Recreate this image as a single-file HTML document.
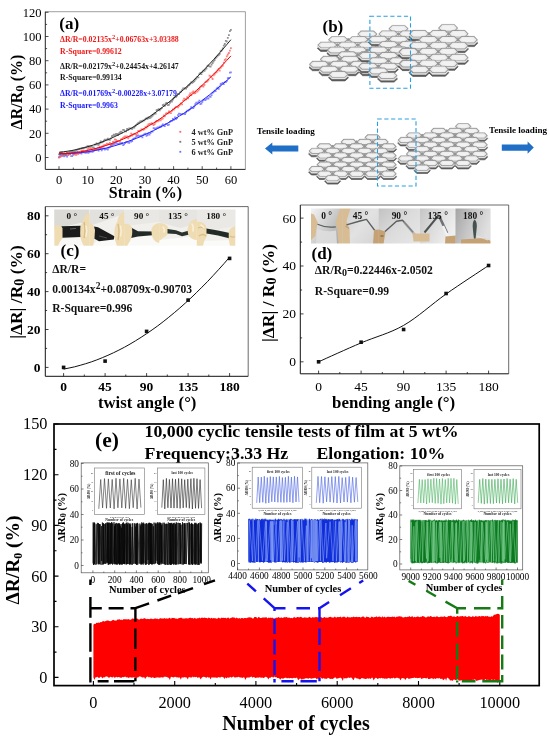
<!DOCTYPE html><html><head><meta charset="utf-8"><title>figure</title><style>html,body{margin:0;padding:0;background:#fff}svg{display:block}text{font-family:"Liberation Serif",serif}</style></head><body>
<svg width="550" height="743" viewBox="0 0 550 743">
<rect width="550" height="743" fill="#fff"/>
<defs>
<filter id="bl" x="-5%" y="-10%" width="110%" height="120%"><feGaussianBlur stdDeviation="0.55"/></filter>
<linearGradient id="gd1" x1="0" y1="0" x2="1" y2="0.8"><stop offset="0" stop-color="#f6f6f6"/><stop offset="0.4" stop-color="#d8d8d8"/><stop offset="1" stop-color="#a8a8a8"/></linearGradient>
<linearGradient id="gd2" x1="0" y1="0" x2="1" y2="1"><stop offset="0" stop-color="#cacaca"/><stop offset="0.5" stop-color="#e2e2e2"/><stop offset="1" stop-color="#d2d2d2"/></linearGradient>
<linearGradient id="gd3" x1="0" y1="0" x2="1" y2="1"><stop offset="0" stop-color="#c0c0c0"/><stop offset="0.5" stop-color="#dcdcdc"/><stop offset="1" stop-color="#e8e8e8"/></linearGradient>
<linearGradient id="gd4" x1="0" y1="0" x2="1" y2="0.6"><stop offset="0" stop-color="#c4c4c4"/><stop offset="0.55" stop-color="#dedede"/><stop offset="1" stop-color="#f0f0f0"/></linearGradient>
<linearGradient id="gd5" x1="0" y1="0" x2="1" y2="0.4"><stop offset="0" stop-color="#a2a2a2"/><stop offset="0.5" stop-color="#c6c6c6"/><stop offset="1" stop-color="#e0e0e0"/></linearGradient>
</defs>
<g id="pa">
<path d="M58.1 157.1h1.8M59.1 156.2h1.8M60.1 154.9h1.8M61.2 155.5h1.8M62.2 155.6h1.8M63.2 156.3h1.8M64.2 155.6h1.8M65.2 155.4h1.8M66.2 156.7h1.8M67.3 154.6h1.8M68.3 154.3h1.8M69.3 154.2h1.8M70.3 156.1h1.8M71.3 156.1h1.8M72.3 154.8h1.8M73.4 153.8h1.8M74.4 153h1.8M75.4 153h1.8M76.4 152h1.8M77.4 152.7h1.8M78.4 152.5h1.8M79.5 153h1.8M80.5 153.5h1.8M81.5 151.4h1.8M82.5 152.3h1.8M83.5 151.8h1.8M84.5 152.8h1.8M85.6 152.5h1.8M86.6 152.6h1.8M87.6 152.9h1.8M88.6 152.1h1.8M89.6 151.6h1.8M90.6 151.7h1.8M91.7 151.8h1.8M92.7 150.7h1.8M93.7 148.6h1.8M94.7 150.1h1.8M95.7 149.8h1.8M96.8 149.6h1.8M97.8 150.5h1.8M98.8 149.1h1.8M99.8 148.2h1.8M100.8 150.3h1.8M101.8 148.5h1.8M102.9 148.3h1.8M103.9 149.6h1.8M104.9 149h1.8M105.9 148.9h1.8M106.9 149.5h1.8M107.9 147.6h1.8M109 147.2h1.8M110 145.8h1.8M111 144.3h1.8M112 144.6h1.8M113 144h1.8M114 143.9h1.8M115.1 142h1.8M116.1 143.5h1.8M117.1 143.9h1.8M118.1 144.1h1.8M119.1 143.4h1.8M120.1 143.5h1.8M121.2 142.8h1.8M122.2 145.2h1.8M123.2 144.4h1.8M124.2 143.1h1.8M125.2 142.1h1.8M126.2 141.9h1.8M127.3 142.6h1.8M128.3 142.8h1.8M129.3 141.1h1.8M130.3 141.6h1.8M131.3 141h1.8M132.4 138.9h1.8M133.4 138.4h1.8M134.4 138.1h1.8M135.4 136.6h1.8M136.4 135.9h1.8M137.4 135.4h1.8M138.5 136.3h1.8M139.5 136h1.8M140.5 135.7h1.8M141.5 137.4h1.8M142.5 134.9h1.8M143.5 134.1h1.8M144.6 133.7h1.8M145.6 135.8h1.8M146.6 135h1.8M147.6 133.4h1.8M148.6 134.7h1.8M149.6 133.2h1.8M150.7 131.6h1.8M151.7 131.7h1.8M152.7 128.1h1.8M153.7 128.5h1.8M154.7 129.1h1.8M155.7 128.2h1.8M156.8 127.3h1.8M157.8 127.6h1.8M158.8 126.7h1.8M159.8 127h1.8M160.8 125.6h1.8M161.9 124.3h1.8M162.9 125.5h1.8M163.9 126.1h1.8M164.9 124.2h1.8M165.9 123.8h1.8M166.9 125.1h1.8M168 124.7h1.8M169 121.9h1.8M170 120.9h1.8M171 120.8h1.8M172 119h1.8M173 119.8h1.8M174.1 117.5h1.8M175.1 119.2h1.8M176.1 118h1.8M177.1 115.2h1.8M178.1 113.7h1.8M179.1 113.9h1.8M180.2 114.4h1.8M181.2 114.1h1.8M182.2 113.8h1.8M183.2 113.9h1.8M184.2 114.2h1.8M185.2 112.4h1.8M186.3 110.7h1.8M187.3 110.7h1.8M188.3 109.9h1.8M189.3 109.1h1.8M190.3 107.1h1.8M191.3 108.1h1.8M192.4 108.2h1.8M193.4 106.5h1.8M194.4 104.2h1.8M195.4 102.6h1.8M196.4 103.4h1.8M197.5 102.2h1.8M198.5 100.6h1.8M199.5 104h1.8M200.5 103.5h1.8M201.5 101.8h1.8M202.5 100.2h1.8M203.6 99.6h1.8M204.6 100.1h1.8M205.6 98.9h1.8M206.6 98.2h1.8M207.6 98.5h1.8M208.6 96.4h1.8M209.7 96.8h1.8M210.7 95.1h1.8M211.7 92.8h1.8M212.7 91.9h1.8M213.7 90.7h1.8M214.7 91.1h1.8M215.8 88.7h1.8M216.8 87.7h1.8M217.8 88.9h1.8M218.8 86.3h1.8M219.8 84h1.8M220.8 83.6h1.8M221.9 82.8h1.8M222.9 84.1h1.8M223.9 82.2h1.8M224.9 82.1h1.8M225.9 80.8h1.8M226.9 78.1h1.8M228 77.8h1.8M229 72.7h1.8M230 72.3h1.8" stroke="#5858ff" stroke-width="1.8" opacity="0.72" fill="none"/>
<path d="M58.1 157.7h1.8M59.1 157.1h1.8M60.1 156.3h1.8M61.2 155.9h1.8M62.2 155.1h1.8M63.2 153.7h1.8M64.2 154.2h1.8M65.2 155h1.8M66.2 152.4h1.8M67.3 155.1h1.8M68.3 153.6h1.8M69.3 154h1.8M70.3 153.1h1.8M71.3 152.6h1.8M72.3 153.5h1.8M73.4 153.4h1.8M74.4 154.8h1.8M75.4 154.8h1.8M76.4 153.3h1.8M77.4 154.1h1.8M78.4 153.2h1.8M79.5 152.9h1.8M80.5 151h1.8M81.5 151.4h1.8M82.5 150.4h1.8M83.5 151.8h1.8M84.5 151.1h1.8M85.6 151.6h1.8M86.6 149.3h1.8M87.6 148h1.8M88.6 149.9h1.8M89.6 148.5h1.8M90.6 148.9h1.8M91.7 149.6h1.8M92.7 151.2h1.8M93.7 148.9h1.8M94.7 149.2h1.8M95.7 148.8h1.8M96.8 147.9h1.8M97.8 148.1h1.8M98.8 147h1.8M99.8 148.3h1.8M100.8 146.6h1.8M101.8 146.2h1.8M102.9 145.3h1.8M103.9 145.2h1.8M104.9 145h1.8M105.9 143.7h1.8M106.9 144.2h1.8M107.9 143.8h1.8M109 142.8h1.8M110 144.3h1.8M111 145h1.8M112 141.9h1.8M113 141.6h1.8M114 139.3h1.8M115.1 139.9h1.8M116.1 141h1.8M117.1 141.2h1.8M118.1 141.2h1.8M119.1 141.5h1.8M120.1 139.3h1.8M121.2 139h1.8M122.2 137.8h1.8M123.2 137.1h1.8M124.2 136.3h1.8M125.2 137.4h1.8M126.2 136.4h1.8M127.3 138.3h1.8M128.3 136.7h1.8M129.3 136.2h1.8M130.3 133.7h1.8M131.3 135.5h1.8M132.4 134.3h1.8M133.4 134.1h1.8M134.4 134.2h1.8M135.4 134.9h1.8M136.4 133.4h1.8M137.4 130.9h1.8M138.5 131.3h1.8M139.5 130.6h1.8M140.5 129.5h1.8M141.5 129.3h1.8M142.5 129.8h1.8M143.5 129.2h1.8M144.6 127.2h1.8M145.6 127.6h1.8M146.6 125.7h1.8M147.6 124.3h1.8M148.6 124h1.8M149.6 123.8h1.8M150.7 123.1h1.8M151.7 124.2h1.8M152.7 125h1.8M153.7 124.2h1.8M154.7 122.4h1.8M155.7 120.9h1.8M156.8 121.4h1.8M157.8 120.6h1.8M158.8 119.8h1.8M159.8 120.4h1.8M160.8 119.1h1.8M161.9 118.3h1.8M162.9 115.4h1.8M163.9 116.4h1.8M164.9 113.7h1.8M165.9 113.2h1.8M166.9 113.3h1.8M168 111.5h1.8M169 112.5h1.8M170 113.1h1.8M171 110.8h1.8M172 109.3h1.8M173 109.6h1.8M174.1 107.8h1.8M175.1 106.8h1.8M176.1 106.8h1.8M177.1 107.4h1.8M178.1 105.9h1.8M179.1 104.6h1.8M180.2 103.4h1.8M181.2 104.3h1.8M182.2 100.7h1.8M183.2 98.7h1.8M184.2 99.1h1.8M185.2 99.4h1.8M186.3 97.2h1.8M187.3 98.4h1.8M188.3 95.4h1.8M189.3 93.5h1.8M190.3 95.2h1.8M191.3 92.7h1.8M192.4 91.3h1.8M193.4 93.3h1.8M194.4 93h1.8M195.4 91.7h1.8M196.4 91.6h1.8M197.5 90.3h1.8M198.5 89h1.8M199.5 86.9h1.8M200.5 86.1h1.8M201.5 86h1.8M202.5 86.5h1.8M203.6 84.8h1.8M204.6 82.2h1.8M205.6 81.6h1.8M206.6 81.4h1.8M207.6 79.8h1.8M208.6 75.6h1.8M209.7 76.5h1.8M210.7 77.3h1.8M211.7 79h1.8M212.7 75.3h1.8M213.7 74.4h1.8M214.7 72.8h1.8M215.8 72.1h1.8M216.8 70.4h1.8M217.8 69h1.8M218.8 70.7h1.8M219.8 67.8h1.8M220.8 66.4h1.8M221.9 65.5h1.8M222.9 62.6h1.8M223.9 60h1.8M224.9 59.2h1.8M225.9 56.3h1.8M226.9 54.5h1.8M228 53h1.8M229 50.7h1.8M230 48.1h1.8" stroke="#ff5050" stroke-width="1.8" opacity="0.72" fill="none"/>
<path d="M58.1 154.4h1.8M59.1 154.1h1.8M60.1 152.4h1.8M61.2 152.7h1.8M62.2 154.1h1.8M63.2 153.3h1.8M64.2 154.7h1.8M65.2 153.5h1.8M66.2 153h1.8M67.3 152.3h1.8M68.3 152.5h1.8M69.3 151.7h1.8M70.3 151.5h1.8M71.3 151.8h1.8M72.3 151.2h1.8M73.4 151.2h1.8M74.4 151.4h1.8M75.4 150.2h1.8M76.4 149.7h1.8M77.4 149.4h1.8M78.4 149.1h1.8M79.5 148.7h1.8M80.5 148.5h1.8M81.5 147.8h1.8M82.5 148h1.8M83.5 147.8h1.8M84.5 147.3h1.8M85.6 147.4h1.8M86.6 146.1h1.8M87.6 146.1h1.8M88.6 146.5h1.8M89.6 146.7h1.8M90.6 146.2h1.8M91.7 147.3h1.8M92.7 147.3h1.8M93.7 144.7h1.8M94.7 144.7h1.8M95.7 143.4h1.8M96.8 144.5h1.8M97.8 144.9h1.8M98.8 143.4h1.8M99.8 141.4h1.8M100.8 142.3h1.8M101.8 141.8h1.8M102.9 140.6h1.8M103.9 139.7h1.8M104.9 139.8h1.8M105.9 139.7h1.8M106.9 138.7h1.8M107.9 139.6h1.8M109 139.9h1.8M110 138.3h1.8M111 136.2h1.8M112 135.7h1.8M113 134.7h1.8M114 135.1h1.8M115.1 134h1.8M116.1 134h1.8M117.1 135.2h1.8M118.1 133.5h1.8M119.1 132.5h1.8M120.1 131.7h1.8M121.2 132.3h1.8M122.2 129.8h1.8M123.2 130.2h1.8M124.2 131.4h1.8M125.2 131.4h1.8M126.2 129h1.8M127.3 129.9h1.8M128.3 128.4h1.8M129.3 128.3h1.8M130.3 128.7h1.8M131.3 128.8h1.8M132.4 127.6h1.8M133.4 127.6h1.8M134.4 126.2h1.8M135.4 124.8h1.8M136.4 124h1.8M137.4 122.8h1.8M138.5 122.3h1.8M139.5 121.5h1.8M140.5 121.1h1.8M141.5 121.4h1.8M142.5 120.4h1.8M143.5 120.4h1.8M144.6 118.9h1.8M145.6 118.1h1.8M146.6 118.9h1.8M147.6 117.5h1.8M148.6 118.2h1.8M149.6 117.5h1.8M150.7 116.7h1.8M151.7 115.5h1.8M152.7 114.4h1.8M153.7 113.5h1.8M154.7 113.7h1.8M155.7 110.1h1.8M156.8 109.9h1.8M157.8 109.1h1.8M158.8 110.4h1.8M159.8 108.8h1.8M160.8 108.2h1.8M161.9 105.2h1.8M162.9 104.6h1.8M163.9 105.8h1.8M164.9 103.5h1.8M165.9 103h1.8M166.9 105.2h1.8M168 104.9h1.8M169 102.9h1.8M170 101.5h1.8M171 101.5h1.8M172 99.5h1.8M173 97.9h1.8M174.1 96.8h1.8M175.1 96.8h1.8M176.1 95.6h1.8M177.1 94h1.8M178.1 94h1.8M179.1 92.4h1.8M180.2 91.7h1.8M181.2 90.1h1.8M182.2 88.4h1.8M183.2 88.5h1.8M184.2 88.2h1.8M185.2 88.7h1.8M186.3 87.1h1.8M187.3 85.6h1.8M188.3 85.1h1.8M189.3 83.8h1.8M190.3 82.5h1.8M191.3 82.9h1.8M192.4 82h1.8M193.4 81.1h1.8M194.4 79.6h1.8M195.4 78.7h1.8M196.4 77.2h1.8M197.5 77.3h1.8M198.5 74.2h1.8M199.5 72.8h1.8M200.5 74.1h1.8M201.5 72.2h1.8M202.5 70.7h1.8M203.6 70.8h1.8M204.6 69.4h1.8M205.6 68.3h1.8M206.6 66.2h1.8M207.6 65.5h1.8M208.6 66.3h1.8M209.7 66.7h1.8M210.7 64.6h1.8M211.7 63h1.8M212.7 61.3h1.8M213.7 60h1.8M214.7 58.2h1.8M215.8 56.8h1.8M216.8 55.6h1.8M217.8 55.2h1.8M218.8 53.8h1.8M219.8 51.2h1.8M220.8 50.3h1.8M221.9 48.5h1.8M222.9 45.7h1.8M223.9 44h1.8M224.9 40.8h1.8M225.9 41.5h1.8M226.9 37.9h1.8M228 35.1h1.8M229 31.1h1.8M230 29.9h1.8" stroke="#686868" stroke-width="1.8" opacity="0.72" fill="none"/>
<path d="M59 153.8 L63.3 153.7 L67.6 153.6 L71.9 153.4 L76.2 153 L80.5 152.6 L84.8 152.1 L89.1 151.5 L93.4 150.7 L97.7 149.9 L102 149 L106.3 148 L110.6 146.9 L114.9 145.7 L119.2 144.4 L123.5 143 L127.8 141.5 L132.1 139.9 L136.4 138.3 L140.7 136.5 L144.9 134.6 L149.2 132.6 L153.5 130.6 L157.8 128.4 L162.1 126.1 L166.4 123.8 L170.7 121.3 L175 118.8 L179.3 116.1 L183.6 113.4 L187.9 110.6 L192.2 107.6 L196.5 104.6 L200.8 101.5 L205.1 98.2 L209.4 94.9 L213.7 91.5 L218 88 L222.3 84.4 L226.6 80.7 L230.9 76.9" stroke="#22f" stroke-width="1" fill="none"/>
<path d="M59 153.8 L63.3 153.6 L67.6 153.4 L71.9 152.9 L76.2 152.4 L80.5 151.8 L84.8 151 L89.1 150.1 L93.4 149.1 L97.7 148 L102 146.8 L106.3 145.4 L110.6 144 L114.9 142.4 L119.2 140.7 L123.5 138.9 L127.8 137 L132.1 134.9 L136.4 132.8 L140.7 130.5 L144.9 128.1 L149.2 125.6 L153.5 123 L157.8 120.3 L162.1 117.4 L166.4 114.4 L170.7 111.3 L175 108.1 L179.3 104.8 L183.6 101.4 L187.9 97.8 L192.2 94.2 L196.5 90.4 L200.8 86.5 L205.1 82.5 L209.4 78.3 L213.7 74.1 L218 69.7 L222.3 65.2 L226.6 60.6 L230.9 55.9" stroke="#e00" stroke-width="1" fill="none"/>
<path d="M59 152.3 L63.3 151.8 L67.6 151.2 L71.9 150.5 L76.2 149.6 L80.5 148.6 L84.8 147.5 L89.1 146.3 L93.4 145 L97.7 143.5 L102 142 L106.3 140.3 L110.6 138.5 L114.9 136.5 L119.2 134.5 L123.5 132.3 L127.8 130.1 L132.1 127.7 L136.4 125.1 L140.7 122.5 L144.9 119.7 L149.2 116.9 L153.5 113.9 L157.8 110.8 L162.1 107.5 L166.4 104.2 L170.7 100.7 L175 97.1 L179.3 93.4 L183.6 89.6 L187.9 85.6 L192.2 81.6 L196.5 77.4 L200.8 73.1 L205.1 68.7 L209.4 64.1 L213.7 59.5 L218 54.7 L222.3 49.8 L226.6 44.8 L230.9 39.7" stroke="#222" stroke-width="1" fill="none"/>
<path d="M45.3 11.7H245.4V169.4" stroke="#777" stroke-width="0.7" fill="none"/>
<path d="M45.3 11.7V169.4H245.4" stroke="#222" stroke-width="1" fill="none"/>
<path d="M45.3 157.5h3.2M45.3 145.4h1.8M45.3 133.3h3.2M45.3 121.2h1.8M45.3 109.1h3.2M45.3 97h1.8M45.3 84.9h3.2M45.3 72.8h1.8M45.3 60.7h3.2M45.3 48.6h1.8M45.3 36.5h3.2M45.3 24.4h1.8M45.3 12.3h3.2M59 169.4v-3.2M73.3 169.4v-1.8M87.7 169.4v-3.2M102 169.4v-1.8M116.3 169.4v-3.2M130.6 169.4v-1.8M144.9 169.4v-3.2M159.3 169.4v-1.8M173.6 169.4v-3.2M187.9 169.4v-1.8M202.2 169.4v-3.2M216.6 169.4v-1.8M230.9 169.4v-3.2" stroke="#222" stroke-width="0.8" fill="none"/>
<text x="41.5" y="161.7" font-size="12.5" text-anchor="end" fill="#000">0</text>
<text x="41.5" y="137.5" font-size="12.5" text-anchor="end" fill="#000">20</text>
<text x="41.5" y="113.3" font-size="12.5" text-anchor="end" fill="#000">40</text>
<text x="41.5" y="89.1" font-size="12.5" text-anchor="end" fill="#000">60</text>
<text x="41.5" y="64.9" font-size="12.5" text-anchor="end" fill="#000">80</text>
<text x="41.5" y="40.7" font-size="12.5" text-anchor="end" fill="#000">100</text>
<text x="41.5" y="16.5" font-size="12.5" text-anchor="end" fill="#000">120</text>
<text x="59" y="184.3" font-size="12.5" text-anchor="middle" fill="#000">0</text>
<text x="87.7" y="184.3" font-size="12.5" text-anchor="middle" fill="#000">10</text>
<text x="116.3" y="184.3" font-size="12.5" text-anchor="middle" fill="#000">20</text>
<text x="144.9" y="184.3" font-size="12.5" text-anchor="middle" fill="#000">30</text>
<text x="173.6" y="184.3" font-size="12.5" text-anchor="middle" fill="#000">40</text>
<text x="202.2" y="184.3" font-size="12.5" text-anchor="middle" fill="#000">50</text>
<text x="230.9" y="184.3" font-size="12.5" text-anchor="middle" fill="#000">60</text>
<text x="145.5" y="197.5" font-size="16" font-weight="bold" text-anchor="middle" fill="#000">Strain (%)</text>
<text x="21.5" y="92" font-size="16" font-weight="bold" text-anchor="middle" fill="#000" transform="rotate(-90 21.5 92)">ΔR/R<tspan font-size="13" dy="2">0</tspan><tspan dy="-2"> (%)</tspan></text>
<text x="59.3" y="29.3" font-size="17" font-weight="bold" text-anchor="start" fill="#000">(a)</text>
<text x="60" y="41.8" font-size="7.8" font-weight="bold" text-anchor="start" fill="#f01818">ΔR/R=0.02135x<tspan font-size="6.5" dy="-3">2</tspan><tspan dy="3">+0.06763x+3.03388</tspan></text>
<text x="60" y="53.5" font-size="7.8" font-weight="bold" text-anchor="start" fill="#f01818">R-Square=0.99612</text>
<text x="60" y="68.6" font-size="7.8" font-weight="bold" text-anchor="start" fill="#1a1a1a">ΔR/R=0.02179x<tspan font-size="6.5" dy="-3">2</tspan><tspan dy="3">+0.24454x+4.26147</tspan></text>
<text x="60" y="80.2" font-size="7.8" font-weight="bold" text-anchor="start" fill="#1a1a1a">R-Square=0.99134</text>
<text x="60" y="95.6" font-size="7.8" font-weight="bold" text-anchor="start" fill="#1a1aff">ΔR/R=0.01769x<tspan font-size="6.5" dy="-3">2</tspan><tspan dy="3">-0.00228x+3.07179</tspan></text>
<text x="60" y="107.6" font-size="7.8" font-weight="bold" text-anchor="start" fill="#1a1aff">R-Square=0.9963</text>
<rect x="179.4" y="130.9" width="1.8" height="1.8" fill="#ff4040" opacity="0.8"/>
<text x="191.5" y="134.6" font-size="8.3" font-weight="bold" text-anchor="start" fill="#222">4 wt% GnP</text>
<rect x="179.4" y="140.9" width="1.8" height="1.8" fill="#555" opacity="0.8"/>
<text x="191.5" y="144.6" font-size="8.3" font-weight="bold" text-anchor="start" fill="#222">5 wt% GnP</text>
<rect x="179.4" y="150.9" width="1.8" height="1.8" fill="#4a4aff" opacity="0.8"/>
<text x="191.5" y="154.6" font-size="8.3" font-weight="bold" text-anchor="start" fill="#222">6 wt% GnP</text>
</g>
<g id="pb">
<text x="322.5" y="31.5" font-size="17" font-weight="bold" text-anchor="start" fill="#000">(b)</text>
<path d="M357.4 37.2L360.8 34H374L377.4 37.2L374 40.3H360.8ZM328.1 42.9L331.5 39.8H344.8L348.1 42.9L344.8 46H331.5ZM348.5 42.9L351.9 39.8H365.1L368.5 42.9L365.1 46H351.9ZM368.8 42.9L372.2 39.8H385.4L388.8 42.9L385.4 46H372.2ZM317.3 48.3L320.7 45.1H333.9L337.3 48.3L333.9 51.4H320.7ZM337.6 48.3L341 45.1H354.2L357.6 48.3L354.2 51.4H341ZM357.9 48.3L361.2 45.1H374.5L377.9 48.3L374.5 51.4H361.2ZM378 48.3L381.4 45.1H394.6L398 48.3L394.6 51.4H381.4ZM326.8 53.4L330.2 50.2H343.4L346.8 53.4L343.4 56.5H330.2ZM347 53.4L350.4 50.2H363.6L367 53.4L363.6 56.5H350.4ZM367.2 53.4L370.6 50.2H383.8L387.2 53.4L383.8 56.5H370.6ZM337.6 58L341 54.9H354.2L357.6 58L354.2 61.1H341ZM357.9 58L361.2 54.9H374.5L377.9 58L374.5 61.1H361.2ZM378 58L381.4 54.9H394.6L398 58L394.6 61.1H381.4Z" fill="#5a5a5a" stroke="#5a5a5a" stroke-width="0.7" stroke-linejoin="round"/>
<path d="M357.4 35.4L360.8 32.2H374L377.3 35.4L374 38.5H360.8ZM328.2 41.1L331.5 37.9H344.7L348.1 41.1L344.7 44.2H331.5ZM348.6 41.1L351.9 37.9H365.1L368.4 41.1L365.1 44.2H351.9ZM368.9 41.1L372.2 37.9H385.4L388.8 41.1L385.4 44.2H372.2ZM317.4 46.5L320.7 43.3H333.9L337.2 46.5L333.9 49.6H320.7ZM337.7 46.5L341 43.3H354.2L357.6 46.5L354.2 49.6H341ZM357.9 46.5L361.3 43.3H374.5L377.8 46.5L374.5 49.6H361.3ZM378.1 46.5L381.4 43.3H394.6L397.9 46.5L394.6 49.6H381.4ZM326.9 51.6L330.2 48.4H343.4L346.8 51.6L343.4 54.7H330.2ZM347.1 51.6L350.4 48.4H363.6L366.9 51.6L363.6 54.7H350.4ZM367.2 51.6L370.6 48.4H383.8L387.1 51.6L383.8 54.7H370.6ZM337.7 56.2L341 53H354.2L357.6 56.2L354.2 59.3H341ZM357.9 56.2L361.3 53H374.5L377.8 56.2L374.5 59.3H361.3ZM378.1 56.2L381.4 53H394.6L397.9 56.2L394.6 59.3H381.4Z" fill="#f4f4f4" stroke="#c8c8c8" stroke-width="0.5" stroke-linejoin="round"/>
<path d="M345.6 39.6L348.2 37.9L350.9 39.6L348.2 41.3ZM366 39.6L368.6 37.9L371.2 39.6L368.6 41.3ZM334.8 45L337.4 43.3L340.1 45L337.4 46.7ZM355.1 45L357.8 43.3L360.4 45L357.8 46.7ZM375.4 45L378 43.3L380.6 45L378 46.7ZM344.3 50.1L346.9 48.4L349.6 50.1L346.9 51.8ZM364.5 50.1L367.1 48.4L369.8 50.1L367.1 51.8ZM355.1 54.7L357.8 53L360.4 54.7L357.8 56.4ZM375.4 54.7L378 53L380.6 54.7L378 56.4Z" fill="#979797"/>
<path d="M357.6 33.9L360.9 30.8H373.9L377.2 33.9L373.9 37H360.9Z" fill="#939393" stroke="#939393" stroke-width="0.4" stroke-linejoin="round"/><path d="M358.6 33.9L361.3 31.4H373.4L376.2 33.9L373.4 36.4H361.3Z" fill="#ebebeb"/><path d="M360.6 33.9L362.6 32.2H372.2L374.2 33.9L372.2 35.5H362.6Z" fill="#f2f2f2"/>
<path d="M328.3 39.6L331.6 36.5H344.6L347.9 39.6L344.6 42.8H331.6ZM348.7 39.6L352 36.5H365L368.3 39.6L365 42.8H352ZM369 39.6L372.3 36.5H385.3L388.6 39.6L385.3 42.8H372.3Z" fill="#939393" stroke="#939393" stroke-width="0.4" stroke-linejoin="round"/><path d="M329.3 39.6L332.1 37.1H344.2L346.9 39.6L344.2 42.1H332.1ZM349.7 39.6L352.4 37.1H364.6L367.3 39.6L364.6 42.1H352.4ZM370 39.6L372.8 37.1H384.9L387.6 39.6L384.9 42.1H372.8Z" fill="#ebebeb"/><path d="M331.3 39.6L333.3 38H342.9L344.9 39.6L342.9 41.2H333.3ZM351.7 39.6L353.7 38H363.3L365.3 39.6L363.3 41.2H353.7ZM372 39.6L374 38H383.6L385.6 39.6L383.6 41.2H374Z" fill="#f2f2f2"/>
<path d="M317.5 45L320.8 41.9H333.8L337.1 45L333.8 48.1H320.8ZM337.8 45L341.1 41.9H354.1L357.4 45L354.1 48.1H341.1ZM358.1 45L361.4 41.9H374.4L377.7 45L374.4 48.1H361.4ZM378.2 45L381.5 41.9H394.5L397.8 45L394.5 48.1H381.5Z" fill="#939393" stroke="#939393" stroke-width="0.4" stroke-linejoin="round"/><path d="M318.5 45L321.2 42.5H333.4L336.1 45L333.4 47.5H321.2ZM338.8 45L341.6 42.5H353.7L356.4 45L353.7 47.5H341.6ZM359.1 45L361.8 42.5H373.9L376.7 45L373.9 47.5H361.8ZM379.2 45L381.9 42.5H394.1L396.8 45L394.1 47.5H381.9Z" fill="#ebebeb"/><path d="M320.5 45L322.5 43.4H332.1L334.1 45L332.1 46.6H322.5ZM340.8 45L342.8 43.4H352.4L354.4 45L352.4 46.6H342.8ZM361.1 45L363.1 43.4H372.7L374.7 45L372.7 46.6H363.1ZM381.2 45L383.2 43.4H392.8L394.8 45L392.8 46.6H383.2Z" fill="#f2f2f2"/>
<path d="M327 50.1L330.3 47H343.3L346.6 50.1L343.3 53.2H330.3ZM347.2 50.1L350.5 47H363.5L366.8 50.1L363.5 53.2H350.5ZM367.4 50.1L370.7 47H383.7L387 50.1L383.7 53.2H370.7Z" fill="#939393" stroke="#939393" stroke-width="0.4" stroke-linejoin="round"/><path d="M328 50.1L330.8 47.6H342.9L345.6 50.1L342.9 52.6H330.8ZM348.2 50.1L350.9 47.6H363.1L365.8 50.1L363.1 52.6H350.9ZM368.4 50.1L371.1 47.6H383.2L386 50.1L383.2 52.6H371.1Z" fill="#ebebeb"/><path d="M330 50.1L332 48.5H341.6L343.6 50.1L341.6 51.8H332ZM350.2 50.1L352.2 48.5H361.8L363.8 50.1L361.8 51.8H352.2ZM370.4 50.1L372.4 48.5H382L384 50.1L382 51.8H372.4Z" fill="#f2f2f2"/>
<path d="M337.8 54.7L341.1 51.6H354.1L357.4 54.7L354.1 57.9H341.1ZM358.1 54.7L361.4 51.6H374.4L377.7 54.7L374.4 57.9H361.4ZM378.2 54.7L381.5 51.6H394.5L397.8 54.7L394.5 57.9H381.5Z" fill="#939393" stroke="#939393" stroke-width="0.4" stroke-linejoin="round"/><path d="M338.8 54.7L341.6 52.2H353.7L356.4 54.7L353.7 57.2H341.6ZM359.1 54.7L361.8 52.2H373.9L376.7 54.7L373.9 57.2H361.8ZM379.2 54.7L381.9 52.2H394.1L396.8 54.7L394.1 57.2H381.9Z" fill="#ebebeb"/><path d="M340.8 54.7L342.8 53.1H352.4L354.4 54.7L352.4 56.4H342.8ZM361.1 54.7L363.1 53.1H372.7L374.7 54.7L372.7 56.4H363.1ZM381.2 54.7L383.2 53.1H392.8L394.8 54.7L392.8 56.4H383.2Z" fill="#f2f2f2"/>
<path d="M319.8 62.6L323.2 59.4H336.4L339.8 62.6L336.4 65.8H323.2ZM340.2 62.6L343.6 59.4H356.8L360.2 62.6L356.8 65.8H343.6ZM360.5 62.6L363.9 59.4H377.1L380.5 62.6L377.1 65.8H363.9ZM309 67.5L312.4 64.3H325.6L329 67.5L325.6 70.7H312.4ZM329.4 67.5L332.8 64.3H346L349.4 67.5L346 70.7H332.8ZM349.6 67.5L353 64.3H366.2L369.6 67.5L366.2 70.7H353ZM370 67.5L373.4 64.3H386.6L390 67.5L386.6 70.7H373.4ZM318.8 72.5L322.2 69.3H335.4L338.8 72.5L335.4 75.7H322.2ZM339 72.5L342.4 69.3H355.6L359 72.5L355.6 75.7H342.4ZM359.2 72.5L362.6 69.3H375.8L379.2 72.5L375.8 75.7H362.6ZM328.5 77.7L331.9 74.5H345.1L348.5 77.7L345.1 80.9H331.9Z" fill="#5a5a5a" stroke="#5a5a5a" stroke-width="0.7" stroke-linejoin="round"/>
<path d="M319.9 60.8L323.2 57.6H336.4L339.8 60.8L336.4 63.9H323.2ZM340.2 60.8L343.6 57.6H356.8L360.1 60.8L356.8 63.9H343.6ZM360.6 60.8L363.9 57.6H377.1L380.4 60.8L377.1 63.9H363.9ZM309.1 65.7L312.4 62.5H325.6L328.9 65.7L325.6 68.8H312.4ZM329.4 65.7L332.8 62.5H346L349.3 65.7L346 68.8H332.8ZM349.7 65.7L353 62.5H366.2L369.6 65.7L366.2 68.8H353ZM370.1 65.7L373.4 62.5H386.6L389.9 65.7L386.6 68.8H373.4ZM318.9 70.7L322.2 67.5H335.4L338.8 70.7L335.4 73.8H322.2ZM339.1 70.7L342.4 67.5H355.6L358.9 70.7L355.6 73.8H342.4ZM359.2 70.7L362.6 67.5H375.8L379.1 70.7L375.8 73.8H362.6ZM328.6 75.9L331.9 72.7H345.1L348.4 75.9L345.1 79H331.9Z" fill="#f4f4f4" stroke="#c8c8c8" stroke-width="0.5" stroke-linejoin="round"/>
<path d="M337.3 59.3L339.9 57.6L342.6 59.3L339.9 61ZM357.7 59.3L360.3 57.6L362.9 59.3L360.3 61ZM326.5 64.2L329.1 62.5L331.8 64.2L329.1 65.9ZM346.9 64.2L349.5 62.5L352.1 64.2L349.5 65.9ZM367.1 64.2L369.8 62.5L372.4 64.2L369.8 65.9ZM336.3 69.2L338.9 67.5L341.6 69.2L338.9 70.9ZM356.5 69.2L359.1 67.5L361.8 69.2L359.1 70.9Z" fill="#979797"/>
<path d="M320 59.3L323.3 56.1H336.3L339.6 59.3L336.3 62.4H323.3ZM340.4 59.3L343.7 56.1H356.7L360 59.3L356.7 62.4H343.7ZM360.7 59.3L364 56.1H377L380.3 59.3L377 62.4H364Z" fill="#939393" stroke="#939393" stroke-width="0.4" stroke-linejoin="round"/><path d="M321 59.3L323.8 56.8H335.9L338.6 59.3L335.9 61.8H323.8ZM341.4 59.3L344.1 56.8H356.2L359 59.3L356.2 61.8H344.1ZM361.7 59.3L364.4 56.8H376.6L379.3 59.3L376.6 61.8H364.4Z" fill="#ebebeb"/><path d="M323 59.3L325 57.6H334.6L336.6 59.3L334.6 60.9H325ZM343.4 59.3L345.4 57.6H355L357 59.3L355 60.9H345.4ZM363.7 59.3L365.7 57.6H375.3L377.3 59.3L375.3 60.9H365.7Z" fill="#f2f2f2"/>
<path d="M309.2 64.2L312.5 61.1H325.5L328.8 64.2L325.5 67.4H312.5ZM329.6 64.2L332.9 61.1H345.9L349.2 64.2L345.9 67.4H332.9ZM349.8 64.2L353.1 61.1H366.1L369.4 64.2L366.1 67.4H353.1ZM370.2 64.2L373.5 61.1H386.5L389.8 64.2L386.5 67.4H373.5Z" fill="#939393" stroke="#939393" stroke-width="0.4" stroke-linejoin="round"/><path d="M310.2 64.2L312.9 61.7H325.1L327.8 64.2L325.1 66.7H312.9ZM330.6 64.2L333.3 61.7H345.4L348.2 64.2L345.4 66.7H333.3ZM350.8 64.2L353.6 61.7H365.7L368.4 64.2L365.7 66.7H353.6ZM371.2 64.2L373.9 61.7H386.1L388.8 64.2L386.1 66.7H373.9Z" fill="#ebebeb"/><path d="M312.2 64.2L314.2 62.6H323.8L325.8 64.2L323.8 65.9H314.2ZM332.6 64.2L334.6 62.6H344.2L346.2 64.2L344.2 65.9H334.6ZM352.8 64.2L354.8 62.6H364.4L366.4 64.2L364.4 65.9H354.8ZM373.2 64.2L375.2 62.6H384.8L386.8 64.2L384.8 65.9H375.2Z" fill="#f2f2f2"/>
<path d="M319 69.2L322.3 66H335.3L338.6 69.2L335.3 72.4H322.3ZM339.2 69.2L342.5 66H355.5L358.8 69.2L355.5 72.4H342.5ZM359.4 69.2L362.7 66H375.7L379 69.2L375.7 72.4H362.7Z" fill="#939393" stroke="#939393" stroke-width="0.4" stroke-linejoin="round"/><path d="M320 69.2L322.8 66.7H334.9L337.6 69.2L334.9 71.7H322.8ZM340.2 69.2L342.9 66.7H355.1L357.8 69.2L355.1 71.7H342.9ZM360.4 69.2L363.1 66.7H375.2L378 69.2L375.2 71.7H363.1Z" fill="#ebebeb"/><path d="M322 69.2L324 67.5H333.6L335.6 69.2L333.6 70.9H324ZM342.2 69.2L344.2 67.5H353.8L355.8 69.2L353.8 70.9H344.2ZM362.4 69.2L364.4 67.5H374L376 69.2L374 70.9H364.4Z" fill="#f2f2f2"/>
<path d="M328.7 74.4L332 71.2H345L348.3 74.4L345 77.6H332Z" fill="#939393" stroke="#939393" stroke-width="0.4" stroke-linejoin="round"/><path d="M329.7 74.4L332.4 71.9H344.6L347.3 74.4L344.6 76.9H332.4Z" fill="#ebebeb"/><path d="M331.7 74.4L333.7 72.8H343.3L345.3 74.4L343.3 76.1H333.7Z" fill="#f2f2f2"/>
<path d="M388.5 31.9L391.9 28.7H405.1L408.5 31.9L405.1 35.1H391.9ZM378.4 37.2L381.8 34H395L398.4 37.2L395 40.4H381.8ZM398.6 37.2L402 34H415.2L418.6 37.2L415.2 40.4H402ZM368.3 42.5L371.7 39.3H384.9L388.3 42.5L384.9 45.7H371.7ZM388.5 42.5L391.9 39.3H405.1L408.5 42.5L405.1 45.7H391.9ZM378.4 47.9L381.8 44.7H395L398.4 47.9L395 51.1H381.8ZM398.6 47.9L402 44.7H415.2L418.6 47.9L415.2 51.1H402ZM368.3 53.3L371.7 50.1H384.9L388.3 53.3L384.9 56.5H371.7ZM388.5 53.3L391.9 50.1H405.1L408.5 53.3L405.1 56.5H391.9ZM358.5 58.7L361.9 55.5H375.1L378.5 58.7L375.1 61.9H361.9ZM378.4 58.7L381.8 55.5H395L398.4 58.7L395 61.9H381.8ZM368.3 64.1L371.7 60.9H384.9L388.3 64.1L384.9 67.3H371.7ZM388.5 64.1L391.9 60.9H405.1L408.5 64.1L405.1 67.3H391.9ZM358.2 69.5L361.6 66.3H374.8L378.2 69.5L374.8 72.7H361.6ZM378.4 69.5L381.8 66.3H395L398.4 69.5L395 72.7H381.8ZM368.3 74.3L371.7 71.1H384.9L388.3 74.3L384.9 77.5H371.7ZM377.5 78.9L380.9 75.7H394.1L397.5 78.9L394.1 82.1H380.9Z" fill="#5a5a5a" stroke="#5a5a5a" stroke-width="0.7" stroke-linejoin="round"/>
<path d="M388.6 30.1L391.9 26.9H405.1L408.4 30.1L405.1 33.3H391.9ZM378.4 35.4L381.8 32.2H395L398.3 35.4L395 38.6H381.8ZM398.7 35.4L402 32.2H415.2L418.6 35.4L415.2 38.6H402ZM368.4 40.7L371.7 37.5H384.9L388.2 40.7L384.9 43.9H371.7ZM388.6 40.7L391.9 37.5H405.1L408.4 40.7L405.1 43.9H391.9ZM378.4 46.1L381.8 42.9H395L398.3 46.1L395 49.3H381.8ZM398.7 46.1L402 42.9H415.2L418.6 46.1L415.2 49.3H402ZM368.4 51.5L371.7 48.3H384.9L388.2 51.5L384.9 54.7H371.7ZM388.6 51.5L391.9 48.3H405.1L408.4 51.5L405.1 54.7H391.9ZM358.6 56.9L361.9 53.7H375.1L378.4 56.9L375.1 60.1H361.9ZM378.4 56.9L381.8 53.7H395L398.3 56.9L395 60.1H381.8ZM368.4 62.3L371.7 59.1H384.9L388.2 62.3L384.9 65.5H371.7ZM388.6 62.3L391.9 59.1H405.1L408.4 62.3L405.1 65.5H391.9ZM358.2 67.7L361.6 64.5H374.8L378.1 67.7L374.8 70.9H361.6ZM378.4 67.7L381.8 64.5H395L398.3 67.7L395 70.9H381.8ZM368.4 72.5L371.7 69.3H384.9L388.2 72.5L384.9 75.7H371.7ZM377.6 77.1L380.9 73.9H394.1L397.4 77.1L394.1 80.3H380.9Z" fill="#f4f4f4" stroke="#c8c8c8" stroke-width="0.5" stroke-linejoin="round"/>
<path d="M395.9 33.9L398.5 32.2L401.1 33.9L398.5 35.6ZM385.8 39.2L388.4 37.5L391 39.2L388.4 40.9ZM395.9 44.6L398.5 42.9L401.1 44.6L398.5 46.3ZM385.8 50L388.4 48.3L391 50L388.4 51.7ZM376 55.4L378.6 53.7L381.2 55.4L378.6 57.1ZM385.8 60.8L388.4 59.1L391 60.8L388.4 62.5ZM375.7 66.2L378.3 64.5L380.9 66.2L378.3 67.9Z" fill="#979797"/>
<path d="M388.7 28.6L392 25.4H405L408.3 28.6L405 31.8H392Z" fill="#939393" stroke="#939393" stroke-width="0.4" stroke-linejoin="round"/><path d="M389.7 28.6L392.4 26.1H404.6L407.3 28.6L404.6 31.2H392.4Z" fill="#ebebeb"/><path d="M391.7 28.6L393.7 26.9H403.3L405.3 28.6L403.3 30.3H393.7Z" fill="#f2f2f2"/>
<path d="M378.6 33.9L381.9 30.7H394.9L398.2 33.9L394.9 37.1H381.9ZM398.8 33.9L402.1 30.7H415.1L418.4 33.9L415.1 37.1H402.1Z" fill="#939393" stroke="#939393" stroke-width="0.4" stroke-linejoin="round"/><path d="M379.6 33.9L382.3 31.3H394.4L397.2 33.9L394.4 36.4H382.3ZM399.8 33.9L402.6 31.3H414.7L417.4 33.9L414.7 36.4H402.6Z" fill="#ebebeb"/><path d="M381.6 33.9L383.6 32.2H393.2L395.2 33.9L393.2 35.6H383.6ZM401.8 33.9L403.8 32.2H413.4L415.4 33.9L413.4 35.6H403.8Z" fill="#f2f2f2"/>
<path d="M368.5 39.2L371.8 36H384.8L388.1 39.2L384.8 42.4H371.8ZM388.7 39.2L392 36H405L408.3 39.2L405 42.4H392Z" fill="#939393" stroke="#939393" stroke-width="0.4" stroke-linejoin="round"/><path d="M369.5 39.2L372.2 36.7H384.4L387.1 39.2L384.4 41.8H372.2ZM389.7 39.2L392.4 36.7H404.6L407.3 39.2L404.6 41.8H392.4Z" fill="#ebebeb"/><path d="M371.5 39.2L373.5 37.5H383.1L385.1 39.2L383.1 40.9H373.5ZM391.7 39.2L393.7 37.5H403.3L405.3 39.2L403.3 40.9H393.7Z" fill="#f2f2f2"/>
<path d="M378.6 44.6L381.9 41.4H394.9L398.2 44.6L394.9 47.8H381.9ZM398.8 44.6L402.1 41.4H415.1L418.4 44.6L415.1 47.8H402.1Z" fill="#939393" stroke="#939393" stroke-width="0.4" stroke-linejoin="round"/><path d="M379.6 44.6L382.3 42.1H394.4L397.2 44.6L394.4 47.1H382.3ZM399.8 44.6L402.6 42.1H414.7L417.4 44.6L414.7 47.1H402.6Z" fill="#ebebeb"/><path d="M381.6 44.6L383.6 42.9H393.2L395.2 44.6L393.2 46.3H383.6ZM401.8 44.6L403.8 42.9H413.4L415.4 44.6L413.4 46.3H403.8Z" fill="#f2f2f2"/>
<path d="M368.5 50L371.8 46.8H384.8L388.1 50L384.8 53.2H371.8ZM388.7 50L392 46.8H405L408.3 50L405 53.2H392Z" fill="#939393" stroke="#939393" stroke-width="0.4" stroke-linejoin="round"/><path d="M369.5 50L372.2 47.5H384.4L387.1 50L384.4 52.5H372.2ZM389.7 50L392.4 47.5H404.6L407.3 50L404.6 52.5H392.4Z" fill="#ebebeb"/><path d="M371.5 50L373.5 48.3H383.1L385.1 50L383.1 51.7H373.5ZM391.7 50L393.7 48.3H403.3L405.3 50L403.3 51.7H393.7Z" fill="#f2f2f2"/>
<path d="M358.7 55.4L362 52.2H375L378.3 55.4L375 58.6H362ZM378.6 55.4L381.9 52.2H394.9L398.2 55.4L394.9 58.6H381.9Z" fill="#939393" stroke="#939393" stroke-width="0.4" stroke-linejoin="round"/><path d="M359.7 55.4L362.4 52.9H374.6L377.3 55.4L374.6 57.9H362.4ZM379.6 55.4L382.3 52.9H394.4L397.2 55.4L394.4 57.9H382.3Z" fill="#ebebeb"/><path d="M361.7 55.4L363.7 53.7H373.3L375.3 55.4L373.3 57.1H363.7ZM381.6 55.4L383.6 53.7H393.2L395.2 55.4L393.2 57.1H383.6Z" fill="#f2f2f2"/>
<path d="M368.5 60.8L371.8 57.6H384.8L388.1 60.8L384.8 64H371.8ZM388.7 60.8L392 57.6H405L408.3 60.8L405 64H392Z" fill="#939393" stroke="#939393" stroke-width="0.4" stroke-linejoin="round"/><path d="M369.5 60.8L372.2 58.2H384.4L387.1 60.8L384.4 63.3H372.2ZM389.7 60.8L392.4 58.2H404.6L407.3 60.8L404.6 63.3H392.4Z" fill="#ebebeb"/><path d="M371.5 60.8L373.5 59.1H383.1L385.1 60.8L383.1 62.5H373.5ZM391.7 60.8L393.7 59.1H403.3L405.3 60.8L403.3 62.5H393.7Z" fill="#f2f2f2"/>
<path d="M358.4 66.2L361.7 63H374.7L378 66.2L374.7 69.4H361.7ZM378.6 66.2L381.9 63H394.9L398.2 66.2L394.9 69.4H381.9Z" fill="#939393" stroke="#939393" stroke-width="0.4" stroke-linejoin="round"/><path d="M359.4 66.2L362.1 63.7H374.2L377 66.2L374.2 68.8H362.1ZM379.6 66.2L382.3 63.7H394.4L397.2 66.2L394.4 68.8H382.3Z" fill="#ebebeb"/><path d="M361.4 66.2L363.4 64.5H373L375 66.2L373 67.9H363.4ZM381.6 66.2L383.6 64.5H393.2L395.2 66.2L393.2 67.9H383.6Z" fill="#f2f2f2"/>
<path d="M368.5 71L371.8 67.8H384.8L388.1 71L384.8 74.2H371.8Z" fill="#939393" stroke="#939393" stroke-width="0.4" stroke-linejoin="round"/><path d="M369.5 71L372.2 68.5H384.4L387.1 71L384.4 73.5H372.2Z" fill="#ebebeb"/><path d="M371.5 71L373.5 69.3H383.1L385.1 71L383.1 72.7H373.5Z" fill="#f2f2f2"/>
<path d="M377.7 75.6L381 72.4H394L397.3 75.6L394 78.8H381Z" fill="#939393" stroke="#939393" stroke-width="0.4" stroke-linejoin="round"/><path d="M378.7 75.6L381.4 73H393.6L396.3 75.6L393.6 78.1H381.4Z" fill="#ebebeb"/><path d="M380.7 75.6L382.7 73.9H392.3L394.3 75.6L392.3 77.3H382.7Z" fill="#f2f2f2"/>
<path d="M438.1 31.2L441.5 27.7H454.8L458.1 31.2L454.8 34.7H441.5ZM409.1 37.1L412.5 33.6H425.8L429.1 37.1L425.8 40.6H412.5ZM428.8 37.1L432.2 33.6H445.4L448.8 37.1L445.4 40.6H432.2ZM448.5 37.1L451.9 33.6H465.1L468.5 37.1L465.1 40.6H451.9ZM418.4 43.1L421.8 39.6H435.1L438.4 43.1L435.1 46.6H421.8ZM438.1 43.1L441.5 39.6H454.8L458.1 43.1L454.8 46.6H441.5ZM457.8 43.1L461.2 39.6H474.4L477.8 43.1L474.4 46.6H461.2ZM409.1 49L412.5 45.5H425.8L429.1 49L425.8 52.5H412.5ZM428.8 49L432.2 45.5H445.4L448.8 49L445.4 52.5H432.2ZM448.5 49L451.9 45.5H465.1L468.5 49L465.1 52.5H451.9ZM398.7 54.9L402.1 51.4H415.4L418.7 54.9L415.4 58.4H402.1ZM418.4 54.9L421.8 51.4H435.1L438.4 54.9L435.1 58.4H421.8ZM438.1 54.9L441.5 51.4H454.8L458.1 54.9L454.8 58.4H441.5ZM398.7 55.3L402.1 51.8H415.3L418.7 55.3L415.3 58.8H402.1ZM409.1 60.8L412.5 57.3H425.8L429.1 60.8L425.8 64.3H412.5ZM428.8 60.8L432.2 57.3H445.4L448.8 60.8L445.4 64.3H432.2ZM448.5 60.8L451.9 57.3H465.1L468.5 60.8L465.1 64.3H451.9ZM398.7 66.8L402.1 63.3H415.4L418.7 66.8L415.4 70.3H402.1ZM418.4 66.8L421.8 63.3H435.1L438.4 66.8L435.1 70.3H421.8ZM438.1 66.8L441.5 63.3H454.8L458.1 66.8L454.8 70.3H441.5ZM399 67.1L402.4 63.6H415.6L419 67.1L415.6 70.6H402.4ZM409.1 72.7L412.5 69.2H425.8L429.1 72.7L425.8 76.2H412.5ZM428.8 72.7L432.2 69.2H445.4L448.8 72.7L445.4 76.2H432.2ZM409.5 72.8L412.9 69.3H426.1L429.5 72.8L426.1 76.3H412.9Z" fill="#5a5a5a" stroke="#5a5a5a" stroke-width="0.7" stroke-linejoin="round"/>
<path d="M438.2 29.4L441.5 25.9H454.7L458.1 29.4L454.7 32.9H441.5ZM409.2 35.3L412.5 31.8H425.7L429.1 35.3L425.7 38.8H412.5ZM428.9 35.3L432.2 31.8H445.4L448.8 35.3L445.4 38.8H432.2ZM448.6 35.3L451.9 31.8H465.1L468.4 35.3L465.1 38.8H451.9ZM418.5 41.2L421.8 37.7H435L438.4 41.2L435 44.7H421.8ZM438.2 41.2L441.5 37.7H454.7L458.1 41.2L454.7 44.7H441.5ZM457.9 41.2L461.2 37.7H474.4L477.8 41.2L474.4 44.7H461.2ZM409.2 47.2L412.5 43.7H425.7L429.1 47.2L425.7 50.7H412.5ZM428.9 47.2L432.2 43.7H445.4L448.8 47.2L445.4 50.7H432.2ZM448.6 47.2L451.9 43.7H465.1L468.4 47.2L465.1 50.7H451.9ZM398.8 53.1L402.1 49.6H415.3L418.7 53.1L415.3 56.6H402.1ZM418.5 53.1L421.8 49.6H435L438.4 53.1L435 56.6H421.8ZM438.2 53.1L441.5 49.6H454.7L458.1 53.1L454.7 56.6H441.5ZM398.8 53.5L402.1 50H415.3L418.6 53.5L415.3 57H402.1ZM409.2 59L412.5 55.5H425.7L429.1 59L425.7 62.5H412.5ZM428.9 59L432.2 55.5H445.4L448.8 59L445.4 62.5H432.2ZM448.6 59L451.9 55.5H465.1L468.4 59L465.1 62.5H451.9ZM398.8 65L402.1 61.5H415.3L418.7 65L415.3 68.5H402.1ZM418.5 65L421.8 61.5H435L438.4 65L435 68.5H421.8ZM438.2 65L441.5 61.5H454.7L458.1 65L454.7 68.5H441.5ZM399.1 65.3L402.4 61.8H415.6L418.9 65.3L415.6 68.8H402.4ZM409.2 70.9L412.5 67.4H425.7L429.1 70.9L425.7 74.4H412.5ZM428.9 70.9L432.2 67.4H445.4L448.8 70.9L445.4 74.4H432.2ZM409.6 71L412.9 67.5H426.1L429.4 71L426.1 74.5H412.9Z" fill="#f4f4f4" stroke="#c8c8c8" stroke-width="0.5" stroke-linejoin="round"/>
<path d="M426.4 33.8L429 32.1L431.6 33.8L429 35.5ZM446.1 33.8L448.7 32.1L451.3 33.8L448.7 35.5ZM435.7 39.8L438.3 38.1L440.9 39.8L438.3 41.5ZM455.4 39.8L458 38.1L460.6 39.8L458 41.5ZM426.4 45.7L429 44L431.6 45.7L429 47.4ZM446.1 45.7L448.7 44L451.3 45.7L448.7 47.4ZM416 51.6L418.6 49.9L421.2 51.6L418.6 53.3ZM435.7 51.6L438.3 49.9L440.9 51.6L438.3 53.3ZM415.9 52L418.6 50.3L421.2 52L418.6 53.7ZM426.4 57.5L429 55.8L431.6 57.5L429 59.2ZM446.1 57.5L448.7 55.8L451.3 57.5L448.7 59.2ZM416 63.5L418.6 61.8L421.2 63.5L418.6 65.2ZM435.7 63.5L438.3 61.8L440.9 63.5L438.3 65.2ZM416.2 63.8L418.9 62.1L421.5 63.8L418.9 65.5ZM426.4 69.4L429 67.7L431.6 69.4L429 71.1ZM426.8 69.5L429.4 67.8L432 69.5L429.4 71.2Z" fill="#979797"/>
<path d="M438.3 27.9L441.6 24.4H454.6L457.9 27.9L454.6 31.4H441.6Z" fill="#939393" stroke="#939393" stroke-width="0.4" stroke-linejoin="round"/><path d="M439.3 27.9L442.1 25H454.2L456.9 27.9L454.2 30.8H442.1Z" fill="#ebebeb"/><path d="M441.3 27.9L443.3 25.9H452.9L454.9 27.9L452.9 29.9H443.3Z" fill="#f2f2f2"/>
<path d="M409.3 33.8L412.6 30.3H425.6L428.9 33.8L425.6 37.3H412.6ZM429 33.8L432.3 30.3H445.3L448.6 33.8L445.3 37.3H432.3ZM448.7 33.8L452 30.3H465L468.3 33.8L465 37.3H452Z" fill="#939393" stroke="#939393" stroke-width="0.4" stroke-linejoin="round"/><path d="M410.3 33.8L413.1 31H425.2L427.9 33.8L425.2 36.7H413.1ZM430 33.8L432.8 31H444.9L447.6 33.8L444.9 36.7H432.8ZM449.7 33.8L452.4 31H464.6L467.3 33.8L464.6 36.7H452.4Z" fill="#ebebeb"/><path d="M412.3 33.8L414.3 31.8H423.9L425.9 33.8L423.9 35.8H414.3ZM432 33.8L434 31.8H443.6L445.6 33.8L443.6 35.8H434ZM451.7 33.8L453.7 31.8H463.3L465.3 33.8L463.3 35.8H453.7Z" fill="#f2f2f2"/>
<path d="M418.6 39.8L421.9 36.3H434.9L438.2 39.8L434.9 43.3H421.9ZM438.3 39.8L441.6 36.3H454.6L457.9 39.8L454.6 43.3H441.6ZM458 39.8L461.3 36.3H474.3L477.6 39.8L474.3 43.3H461.3Z" fill="#939393" stroke="#939393" stroke-width="0.4" stroke-linejoin="round"/><path d="M419.6 39.8L422.4 36.9H434.5L437.2 39.8L434.5 42.6H422.4ZM439.3 39.8L442.1 36.9H454.2L456.9 39.8L454.2 42.6H442.1ZM459 39.8L461.8 36.9H473.9L476.6 39.8L473.9 42.6H461.8Z" fill="#ebebeb"/><path d="M421.6 39.8L423.6 37.8H433.2L435.2 39.8L433.2 41.8H423.6ZM441.3 39.8L443.3 37.8H452.9L454.9 39.8L452.9 41.8H443.3ZM461 39.8L463 37.8H472.6L474.6 39.8L472.6 41.8H463Z" fill="#f2f2f2"/>
<path d="M409.3 45.7L412.6 42.2H425.6L428.9 45.7L425.6 49.2H412.6ZM429 45.7L432.3 42.2H445.3L448.6 45.7L445.3 49.2H432.3ZM448.7 45.7L452 42.2H465L468.3 45.7L465 49.2H452Z" fill="#939393" stroke="#939393" stroke-width="0.4" stroke-linejoin="round"/><path d="M410.3 45.7L413.1 42.8H425.2L427.9 45.7L425.2 48.5H413.1ZM430 45.7L432.8 42.8H444.9L447.6 45.7L444.9 48.5H432.8ZM449.7 45.7L452.4 42.8H464.6L467.3 45.7L464.6 48.5H452.4Z" fill="#ebebeb"/><path d="M412.3 45.7L414.3 43.7H423.9L425.9 45.7L423.9 47.7H414.3ZM432 45.7L434 43.7H443.6L445.6 45.7L443.6 47.7H434ZM451.7 45.7L453.7 43.7H463.3L465.3 45.7L463.3 47.7H453.7Z" fill="#f2f2f2"/>
<path d="M398.9 51.6L402.2 48.1H415.2L418.5 51.6L415.2 55.1H402.2ZM418.6 51.6L421.9 48.1H434.9L438.2 51.6L434.9 55.1H421.9ZM438.3 51.6L441.6 48.1H454.6L457.9 51.6L454.6 55.1H441.6Z" fill="#939393" stroke="#939393" stroke-width="0.4" stroke-linejoin="round"/><path d="M399.9 51.6L402.7 48.8H414.8L417.5 51.6L414.8 54.5H402.7ZM419.6 51.6L422.4 48.8H434.5L437.2 51.6L434.5 54.5H422.4ZM439.3 51.6L442.1 48.8H454.2L456.9 51.6L454.2 54.5H442.1Z" fill="#ebebeb"/><path d="M401.9 51.6L403.9 49.6H413.5L415.5 51.6L413.5 53.6H403.9ZM421.6 51.6L423.6 49.6H433.2L435.2 51.6L433.2 53.6H423.6ZM441.3 51.6L443.3 49.6H452.9L454.9 51.6L452.9 53.6H443.3Z" fill="#f2f2f2"/>
<path d="M398.9 52L402.2 48.5H415.2L418.5 52L415.2 55.5H402.2Z" fill="#939393" stroke="#939393" stroke-width="0.4" stroke-linejoin="round"/><path d="M399.9 52L402.6 49.1H414.8L417.5 52L414.8 54.9H402.6Z" fill="#ebebeb"/><path d="M401.9 52L403.9 50H413.5L415.5 52L413.5 54H403.9Z" fill="#f2f2f2"/>
<path d="M409.3 57.5L412.6 54H425.6L428.9 57.5L425.6 61H412.6ZM429 57.5L432.3 54H445.3L448.6 57.5L445.3 61H432.3ZM448.7 57.5L452 54H465L468.3 57.5L465 61H452Z" fill="#939393" stroke="#939393" stroke-width="0.4" stroke-linejoin="round"/><path d="M410.3 57.5L413.1 54.7H425.2L427.9 57.5L425.2 60.4H413.1ZM430 57.5L432.8 54.7H444.9L447.6 57.5L444.9 60.4H432.8ZM449.7 57.5L452.4 54.7H464.6L467.3 57.5L464.6 60.4H452.4Z" fill="#ebebeb"/><path d="M412.3 57.5L414.3 55.5H423.9L425.9 57.5L423.9 59.5H414.3ZM432 57.5L434 55.5H443.6L445.6 57.5L443.6 59.5H434ZM451.7 57.5L453.7 55.5H463.3L465.3 57.5L463.3 59.5H453.7Z" fill="#f2f2f2"/>
<path d="M398.9 63.5L402.2 60H415.2L418.5 63.5L415.2 67H402.2ZM418.6 63.5L421.9 60H434.9L438.2 63.5L434.9 67H421.9ZM438.3 63.5L441.6 60H454.6L457.9 63.5L454.6 67H441.6Z" fill="#939393" stroke="#939393" stroke-width="0.4" stroke-linejoin="round"/><path d="M399.9 63.5L402.7 60.6H414.8L417.5 63.5L414.8 66.3H402.7ZM419.6 63.5L422.4 60.6H434.5L437.2 63.5L434.5 66.3H422.4ZM439.3 63.5L442.1 60.6H454.2L456.9 63.5L454.2 66.3H442.1Z" fill="#ebebeb"/><path d="M401.9 63.5L403.9 61.5H413.5L415.5 63.5L413.5 65.5H403.9ZM421.6 63.5L423.6 61.5H433.2L435.2 63.5L433.2 65.5H423.6ZM441.3 63.5L443.3 61.5H452.9L454.9 63.5L452.9 65.5H443.3Z" fill="#f2f2f2"/>
<path d="M399.2 63.8L402.5 60.3H415.5L418.8 63.8L415.5 67.3H402.5Z" fill="#939393" stroke="#939393" stroke-width="0.4" stroke-linejoin="round"/><path d="M400.2 63.8L402.9 60.9H415.1L417.8 63.8L415.1 66.6H402.9Z" fill="#ebebeb"/><path d="M402.2 63.8L404.2 61.8H413.8L415.8 63.8L413.8 65.8H404.2Z" fill="#f2f2f2"/>
<path d="M409.3 69.4L412.6 65.9H425.6L428.9 69.4L425.6 72.9H412.6ZM429 69.4L432.3 65.9H445.3L448.6 69.4L445.3 72.9H432.3Z" fill="#939393" stroke="#939393" stroke-width="0.4" stroke-linejoin="round"/><path d="M410.3 69.4L413.1 66.6H425.2L427.9 69.4L425.2 72.3H413.1ZM430 69.4L432.8 66.6H444.9L447.6 69.4L444.9 72.3H432.8Z" fill="#ebebeb"/><path d="M412.3 69.4L414.3 67.4H423.9L425.9 69.4L423.9 71.4H414.3ZM432 69.4L434 67.4H443.6L445.6 69.4L443.6 71.4H434Z" fill="#f2f2f2"/>
<path d="M409.7 69.5L413 66H426L429.3 69.5L426 73H413Z" fill="#939393" stroke="#939393" stroke-width="0.4" stroke-linejoin="round"/><path d="M410.7 69.5L413.4 66.7H425.6L428.3 69.5L425.6 72.3H413.4Z" fill="#ebebeb"/><path d="M412.7 69.5L414.7 67.5H424.3L426.3 69.5L424.3 71.5H414.7Z" fill="#f2f2f2"/>
<rect x="369.9" y="16.3" width="40.6" height="72" fill="none" stroke="#2a9fe0" stroke-width="1.1" stroke-dasharray="4.2 2.6"/>
<path d="M364.6 140.3L367.4 137.5H377.9L380.6 140.3L377.9 143.1H367.4ZM340.6 144.9L343.4 142.1H353.9L356.6 144.9L353.9 147.7H343.4ZM356.6 144.9L359.4 142.1H369.9L372.6 144.9L369.9 147.7H359.4ZM372.6 144.9L375.4 142.1H385.9L388.6 144.9L385.9 147.7H375.4ZM316.6 149.4L319.4 146.6H329.9L332.6 149.4L329.9 152.2H319.4ZM332.6 149.4L335.4 146.6H345.9L348.6 149.4L345.9 152.2H335.4ZM348.6 149.4L351.4 146.6H361.9L364.6 149.4L361.9 152.2H351.4ZM364.6 149.4L367.4 146.6H377.9L380.6 149.4L377.9 152.2H367.4ZM380.6 149.4L383.4 146.6H393.9L396.6 149.4L393.9 152.2H383.4ZM308.6 154L311.4 151.2H321.9L324.6 154L321.9 156.8H311.4ZM324.6 154L327.4 151.2H337.9L340.6 154L337.9 156.8H327.4ZM340.6 154L343.4 151.2H353.9L356.6 154L353.9 156.8H343.4ZM356.6 154L359.4 151.2H369.9L372.6 154L369.9 156.8H359.4ZM372.6 154L375.4 151.2H385.9L388.6 154L385.9 156.8H375.4ZM316.6 158.5L319.4 155.7H329.9L332.6 158.5L329.9 161.3H319.4ZM332.6 158.5L335.4 155.7H345.9L348.6 158.5L345.9 161.3H335.4ZM348.6 158.5L351.4 155.7H361.9L364.6 158.5L361.9 161.3H351.4ZM364.6 158.5L367.4 155.7H377.9L380.6 158.5L377.9 161.3H367.4ZM380.6 158.5L383.4 155.7H393.9L396.6 158.5L393.9 161.3H383.4ZM324.6 163.1L327.4 160.2H337.9L340.6 163.1L337.9 165.9H327.4ZM340.6 163.1L343.4 160.2H353.9L356.6 163.1L353.9 165.9H343.4ZM356.6 163.1L359.4 160.2H369.9L372.6 163.1L369.9 165.9H359.4ZM372.6 163.1L375.4 160.2H385.9L388.6 163.1L385.9 165.9H375.4ZM316.6 167.6L319.4 164.8H329.9L332.6 167.6L329.9 170.4H319.4ZM332.6 167.6L335.4 164.8H345.9L348.6 167.6L345.9 170.4H335.4ZM348.6 167.6L351.4 164.8H361.9L364.6 167.6L361.9 170.4H351.4ZM364.6 167.6L367.4 164.8H377.9L380.6 167.6L377.9 170.4H367.4ZM380.6 167.6L383.4 164.8H393.9L396.6 167.6L393.9 170.4H383.4ZM308.6 172.2L311.4 169.3H321.9L324.6 172.2L321.9 175H311.4ZM324.6 172.2L327.4 169.3H337.9L340.6 172.2L337.9 175H327.4ZM340.6 172.2L343.4 169.3H353.9L356.6 172.2L353.9 175H343.4ZM356.6 172.2L359.4 169.3H369.9L372.6 172.2L369.9 175H359.4ZM372.6 172.2L375.4 169.3H385.9L388.6 172.2L385.9 175H375.4ZM316.6 176.7L319.4 173.9H329.9L332.6 176.7L329.9 179.5H319.4ZM332.6 176.7L335.4 173.9H345.9L348.6 176.7L345.9 179.5H335.4ZM348.6 176.7L351.4 173.9H361.9L364.6 176.7L361.9 179.5H351.4ZM364.6 176.7L367.4 173.9H377.9L380.6 176.7L377.9 179.5H367.4ZM380.6 176.7L383.4 173.9H393.9L396.6 176.7L393.9 179.5H383.4ZM324.6 181.2L327.4 178.4H337.9L340.6 181.2L337.9 184.1H327.4Z" fill="#5a5a5a" stroke="#5a5a5a" stroke-width="0.7" stroke-linejoin="round"/>
<path d="M364.7 138.7L367.4 135.8H377.8L380.6 138.7L377.8 141.5H367.4ZM340.7 143.2L343.4 140.4H353.8L356.6 143.2L353.8 146H343.4ZM356.7 143.2L359.4 140.4H369.8L372.6 143.2L369.8 146H359.4ZM372.7 143.2L375.4 140.4H385.8L388.6 143.2L385.8 146H375.4ZM316.7 147.8L319.4 144.9H329.8L332.6 147.8L329.8 150.6H319.4ZM332.7 147.8L335.4 144.9H345.8L348.6 147.8L345.8 150.6H335.4ZM348.7 147.8L351.4 144.9H361.8L364.6 147.8L361.8 150.6H351.4ZM364.7 147.8L367.4 144.9H377.8L380.6 147.8L377.8 150.6H367.4ZM380.7 147.8L383.4 144.9H393.8L396.6 147.8L393.8 150.6H383.4ZM308.7 152.3L311.4 149.5H321.8L324.6 152.3L321.8 155.1H311.4ZM324.7 152.3L327.4 149.5H337.8L340.6 152.3L337.8 155.1H327.4ZM340.7 152.3L343.4 149.5H353.8L356.6 152.3L353.8 155.1H343.4ZM356.7 152.3L359.4 149.5H369.8L372.6 152.3L369.8 155.1H359.4ZM372.7 152.3L375.4 149.5H385.8L388.6 152.3L385.8 155.1H375.4ZM316.7 156.8L319.4 154H329.8L332.6 156.8L329.8 159.7H319.4ZM332.7 156.8L335.4 154H345.8L348.6 156.8L345.8 159.7H335.4ZM348.7 156.8L351.4 154H361.8L364.6 156.8L361.8 159.7H351.4ZM364.7 156.8L367.4 154H377.8L380.6 156.8L377.8 159.7H367.4ZM380.7 156.8L383.4 154H393.8L396.6 156.8L393.8 159.7H383.4ZM324.7 161.4L327.4 158.6H337.8L340.6 161.4L337.8 164.2H327.4ZM340.7 161.4L343.4 158.6H353.8L356.6 161.4L353.8 164.2H343.4ZM356.7 161.4L359.4 158.6H369.8L372.6 161.4L369.8 164.2H359.4ZM372.7 161.4L375.4 158.6H385.8L388.6 161.4L385.8 164.2H375.4ZM316.7 166L319.4 163.2H329.8L332.6 166L329.8 168.8H319.4ZM332.7 166L335.4 163.2H345.8L348.6 166L345.8 168.8H335.4ZM348.7 166L351.4 163.2H361.8L364.6 166L361.8 168.8H351.4ZM364.7 166L367.4 163.2H377.8L380.6 166L377.8 168.8H367.4ZM380.7 166L383.4 163.2H393.8L396.6 166L393.8 168.8H383.4ZM308.7 170.5L311.4 167.7H321.8L324.6 170.5L321.8 173.3H311.4ZM324.7 170.5L327.4 167.7H337.8L340.6 170.5L337.8 173.3H327.4ZM340.7 170.5L343.4 167.7H353.8L356.6 170.5L353.8 173.3H343.4ZM356.7 170.5L359.4 167.7H369.8L372.6 170.5L369.8 173.3H359.4ZM372.7 170.5L375.4 167.7H385.8L388.6 170.5L385.8 173.3H375.4ZM316.7 175.1L319.4 172.2H329.8L332.6 175.1L329.8 177.9H319.4ZM332.7 175.1L335.4 172.2H345.8L348.6 175.1L345.8 177.9H335.4ZM348.7 175.1L351.4 172.2H361.8L364.6 175.1L361.8 177.9H351.4ZM364.7 175.1L367.4 172.2H377.8L380.6 175.1L377.8 177.9H367.4ZM380.7 175.1L383.4 172.2H393.8L396.6 175.1L393.8 177.9H383.4ZM324.7 179.6L327.4 176.8H337.8L340.6 179.6L337.8 182.4H327.4Z" fill="#f4f4f4" stroke="#c8c8c8" stroke-width="0.5" stroke-linejoin="round"/>
<path d="M354 141.9L356.6 140.2L359.2 141.9L356.6 143.6ZM370 141.9L372.6 140.2L375.2 141.9L372.6 143.6ZM330 146.4L332.6 144.7L335.2 146.4L332.6 148.1ZM346 146.4L348.6 144.7L351.2 146.4L348.6 148.1ZM362 146.4L364.6 144.7L367.2 146.4L364.6 148.1ZM378 146.4L380.6 144.7L383.2 146.4L380.6 148.1ZM322 151L324.6 149.3L327.2 151L324.6 152.7ZM338 151L340.6 149.3L343.2 151L340.6 152.7ZM354 151L356.6 149.3L359.2 151L356.6 152.7ZM370 151L372.6 149.3L375.2 151L372.6 152.7ZM330 155.5L332.6 153.8L335.2 155.5L332.6 157.2ZM346 155.5L348.6 153.8L351.2 155.5L348.6 157.2ZM362 155.5L364.6 153.8L367.2 155.5L364.6 157.2ZM378 155.5L380.6 153.8L383.2 155.5L380.6 157.2ZM338 160.1L340.6 158.4L343.2 160.1L340.6 161.8ZM354 160.1L356.6 158.4L359.2 160.1L356.6 161.8ZM370 160.1L372.6 158.4L375.2 160.1L372.6 161.8ZM330 164.6L332.6 162.9L335.2 164.6L332.6 166.3ZM346 164.6L348.6 162.9L351.2 164.6L348.6 166.3ZM362 164.6L364.6 162.9L367.2 164.6L364.6 166.3ZM378 164.6L380.6 162.9L383.2 164.6L380.6 166.3ZM322 169.2L324.6 167.5L327.2 169.2L324.6 170.8ZM338 169.2L340.6 167.5L343.2 169.2L340.6 170.8ZM354 169.2L356.6 167.5L359.2 169.2L356.6 170.8ZM370 169.2L372.6 167.5L375.2 169.2L372.6 170.8ZM330 173.7L332.6 172L335.2 173.7L332.6 175.4ZM346 173.7L348.6 172L351.2 173.7L348.6 175.4ZM362 173.7L364.6 172L367.2 173.7L364.6 175.4ZM378 173.7L380.6 172L383.2 173.7L380.6 175.4Z" fill="#979797"/>
<path d="M364.8 137.3L367.5 134.5H377.7L380.4 137.3L377.7 140.1H367.5Z" fill="#939393" stroke="#939393" stroke-width="0.4" stroke-linejoin="round"/><path d="M365.8 137.3L368 135.2H377.2L379.4 137.3L377.2 139.5H368Z" fill="#ebebeb"/><path d="M367.8 137.3L369.2 136H376L377.4 137.3L376 138.6H369.2Z" fill="#f2f2f2"/>
<path d="M340.8 141.9L343.5 139.1H353.7L356.4 141.9L353.7 144.7H343.5ZM356.8 141.9L359.5 139.1H369.7L372.4 141.9L369.7 144.7H359.5ZM372.8 141.9L375.5 139.1H385.7L388.4 141.9L385.7 144.7H375.5Z" fill="#939393" stroke="#939393" stroke-width="0.4" stroke-linejoin="round"/><path d="M341.8 141.9L344 139.7H353.2L355.4 141.9L353.2 144H344ZM357.8 141.9L360 139.7H369.2L371.4 141.9L369.2 144H360ZM373.8 141.9L376 139.7H385.2L387.4 141.9L385.2 144H376Z" fill="#ebebeb"/><path d="M343.8 141.9L345.2 140.6H352L353.4 141.9L352 143.2H345.2ZM359.8 141.9L361.2 140.6H368L369.4 141.9L368 143.2H361.2ZM375.8 141.9L377.2 140.6H384L385.4 141.9L384 143.2H377.2Z" fill="#f2f2f2"/>
<path d="M316.8 146.4L319.5 143.6H329.7L332.4 146.4L329.7 149.2H319.5ZM332.8 146.4L335.5 143.6H345.7L348.4 146.4L345.7 149.2H335.5ZM348.8 146.4L351.5 143.6H361.7L364.4 146.4L361.7 149.2H351.5ZM364.8 146.4L367.5 143.6H377.7L380.4 146.4L377.7 149.2H367.5ZM380.8 146.4L383.5 143.6H393.7L396.4 146.4L393.7 149.2H383.5Z" fill="#939393" stroke="#939393" stroke-width="0.4" stroke-linejoin="round"/><path d="M317.8 146.4L320 144.2H329.2L331.4 146.4L329.2 148.6H320ZM333.8 146.4L336 144.2H345.2L347.4 146.4L345.2 148.6H336ZM349.8 146.4L352 144.2H361.2L363.4 146.4L361.2 148.6H352ZM365.8 146.4L368 144.2H377.2L379.4 146.4L377.2 148.6H368ZM381.8 146.4L384 144.2H393.2L395.4 146.4L393.2 148.6H384Z" fill="#ebebeb"/><path d="M319.8 146.4L321.2 145.1H328L329.4 146.4L328 147.7H321.2ZM335.8 146.4L337.2 145.1H344L345.4 146.4L344 147.7H337.2ZM351.8 146.4L353.2 145.1H360L361.4 146.4L360 147.7H353.2ZM367.8 146.4L369.2 145.1H376L377.4 146.4L376 147.7H369.2ZM383.8 146.4L385.2 145.1H392L393.4 146.4L392 147.7H385.2Z" fill="#f2f2f2"/>
<path d="M308.8 151L311.5 148.2H321.7L324.4 151L321.7 153.8H311.5ZM324.8 151L327.5 148.2H337.7L340.4 151L337.7 153.8H327.5ZM340.8 151L343.5 148.2H353.7L356.4 151L353.7 153.8H343.5ZM356.8 151L359.5 148.2H369.7L372.4 151L369.7 153.8H359.5ZM372.8 151L375.5 148.2H385.7L388.4 151L385.7 153.8H375.5Z" fill="#939393" stroke="#939393" stroke-width="0.4" stroke-linejoin="round"/><path d="M309.8 151L312 148.8H321.2L323.4 151L321.2 153.1H312ZM325.8 151L328 148.8H337.2L339.4 151L337.2 153.1H328ZM341.8 151L344 148.8H353.2L355.4 151L353.2 153.1H344ZM357.8 151L360 148.8H369.2L371.4 151L369.2 153.1H360ZM373.8 151L376 148.8H385.2L387.4 151L385.2 153.1H376Z" fill="#ebebeb"/><path d="M311.8 151L313.2 149.7H320L321.4 151L320 152.3H313.2ZM327.8 151L329.2 149.7H336L337.4 151L336 152.3H329.2ZM343.8 151L345.2 149.7H352L353.4 151L352 152.3H345.2ZM359.8 151L361.2 149.7H368L369.4 151L368 152.3H361.2ZM375.8 151L377.2 149.7H384L385.4 151L384 152.3H377.2Z" fill="#f2f2f2"/>
<path d="M316.8 155.5L319.5 152.7H329.7L332.4 155.5L329.7 158.3H319.5ZM332.8 155.5L335.5 152.7H345.7L348.4 155.5L345.7 158.3H335.5ZM348.8 155.5L351.5 152.7H361.7L364.4 155.5L361.7 158.3H351.5ZM364.8 155.5L367.5 152.7H377.7L380.4 155.5L377.7 158.3H367.5ZM380.8 155.5L383.5 152.7H393.7L396.4 155.5L393.7 158.3H383.5Z" fill="#939393" stroke="#939393" stroke-width="0.4" stroke-linejoin="round"/><path d="M317.8 155.5L320 153.3H329.2L331.4 155.5L329.2 157.7H320ZM333.8 155.5L336 153.3H345.2L347.4 155.5L345.2 157.7H336ZM349.8 155.5L352 153.3H361.2L363.4 155.5L361.2 157.7H352ZM365.8 155.5L368 153.3H377.2L379.4 155.5L377.2 157.7H368ZM381.8 155.5L384 153.3H393.2L395.4 155.5L393.2 157.7H384Z" fill="#ebebeb"/><path d="M319.8 155.5L321.2 154.2H328L329.4 155.5L328 156.8H321.2ZM335.8 155.5L337.2 154.2H344L345.4 155.5L344 156.8H337.2ZM351.8 155.5L353.2 154.2H360L361.4 155.5L360 156.8H353.2ZM367.8 155.5L369.2 154.2H376L377.4 155.5L376 156.8H369.2ZM383.8 155.5L385.2 154.2H392L393.4 155.5L392 156.8H385.2Z" fill="#f2f2f2"/>
<path d="M324.8 160.1L327.5 157.2H337.7L340.4 160.1L337.7 162.9H327.5ZM340.8 160.1L343.5 157.2H353.7L356.4 160.1L353.7 162.9H343.5ZM356.8 160.1L359.5 157.2H369.7L372.4 160.1L369.7 162.9H359.5ZM372.8 160.1L375.5 157.2H385.7L388.4 160.1L385.7 162.9H375.5Z" fill="#939393" stroke="#939393" stroke-width="0.4" stroke-linejoin="round"/><path d="M325.8 160.1L328 157.9H337.2L339.4 160.1L337.2 162.2H328ZM341.8 160.1L344 157.9H353.2L355.4 160.1L353.2 162.2H344ZM357.8 160.1L360 157.9H369.2L371.4 160.1L369.2 162.2H360ZM373.8 160.1L376 157.9H385.2L387.4 160.1L385.2 162.2H376Z" fill="#ebebeb"/><path d="M327.8 160.1L329.2 158.8H336L337.4 160.1L336 161.4H329.2ZM343.8 160.1L345.2 158.8H352L353.4 160.1L352 161.4H345.2ZM359.8 160.1L361.2 158.8H368L369.4 160.1L368 161.4H361.2ZM375.8 160.1L377.2 158.8H384L385.4 160.1L384 161.4H377.2Z" fill="#f2f2f2"/>
<path d="M316.8 164.6L319.5 161.8H329.7L332.4 164.6L329.7 167.4H319.5ZM332.8 164.6L335.5 161.8H345.7L348.4 164.6L345.7 167.4H335.5ZM348.8 164.6L351.5 161.8H361.7L364.4 164.6L361.7 167.4H351.5ZM364.8 164.6L367.5 161.8H377.7L380.4 164.6L377.7 167.4H367.5ZM380.8 164.6L383.5 161.8H393.7L396.4 164.6L393.7 167.4H383.5Z" fill="#939393" stroke="#939393" stroke-width="0.4" stroke-linejoin="round"/><path d="M317.8 164.6L320 162.5H329.2L331.4 164.6L329.2 166.8H320ZM333.8 164.6L336 162.5H345.2L347.4 164.6L345.2 166.8H336ZM349.8 164.6L352 162.5H361.2L363.4 164.6L361.2 166.8H352ZM365.8 164.6L368 162.5H377.2L379.4 164.6L377.2 166.8H368ZM381.8 164.6L384 162.5H393.2L395.4 164.6L393.2 166.8H384Z" fill="#ebebeb"/><path d="M319.8 164.6L321.2 163.3H328L329.4 164.6L328 165.9H321.2ZM335.8 164.6L337.2 163.3H344L345.4 164.6L344 165.9H337.2ZM351.8 164.6L353.2 163.3H360L361.4 164.6L360 165.9H353.2ZM367.8 164.6L369.2 163.3H376L377.4 164.6L376 165.9H369.2ZM383.8 164.6L385.2 163.3H392L393.4 164.6L392 165.9H385.2Z" fill="#f2f2f2"/>
<path d="M308.8 169.2L311.5 166.3H321.7L324.4 169.2L321.7 172H311.5ZM324.8 169.2L327.5 166.3H337.7L340.4 169.2L337.7 172H327.5ZM340.8 169.2L343.5 166.3H353.7L356.4 169.2L353.7 172H343.5ZM356.8 169.2L359.5 166.3H369.7L372.4 169.2L369.7 172H359.5ZM372.8 169.2L375.5 166.3H385.7L388.4 169.2L385.7 172H375.5Z" fill="#939393" stroke="#939393" stroke-width="0.4" stroke-linejoin="round"/><path d="M309.8 169.2L312 167H321.2L323.4 169.2L321.2 171.3H312ZM325.8 169.2L328 167H337.2L339.4 169.2L337.2 171.3H328ZM341.8 169.2L344 167H353.2L355.4 169.2L353.2 171.3H344ZM357.8 169.2L360 167H369.2L371.4 169.2L369.2 171.3H360ZM373.8 169.2L376 167H385.2L387.4 169.2L385.2 171.3H376Z" fill="#ebebeb"/><path d="M311.8 169.2L313.2 167.8H320L321.4 169.2L320 170.5H313.2ZM327.8 169.2L329.2 167.8H336L337.4 169.2L336 170.5H329.2ZM343.8 169.2L345.2 167.8H352L353.4 169.2L352 170.5H345.2ZM359.8 169.2L361.2 167.8H368L369.4 169.2L368 170.5H361.2ZM375.8 169.2L377.2 167.8H384L385.4 169.2L384 170.5H377.2Z" fill="#f2f2f2"/>
<path d="M316.8 173.7L319.5 170.9H329.7L332.4 173.7L329.7 176.5H319.5ZM332.8 173.7L335.5 170.9H345.7L348.4 173.7L345.7 176.5H335.5ZM348.8 173.7L351.5 170.9H361.7L364.4 173.7L361.7 176.5H351.5ZM364.8 173.7L367.5 170.9H377.7L380.4 173.7L377.7 176.5H367.5ZM380.8 173.7L383.5 170.9H393.7L396.4 173.7L393.7 176.5H383.5Z" fill="#939393" stroke="#939393" stroke-width="0.4" stroke-linejoin="round"/><path d="M317.8 173.7L320 171.6H329.2L331.4 173.7L329.2 175.9H320ZM333.8 173.7L336 171.6H345.2L347.4 173.7L345.2 175.9H336ZM349.8 173.7L352 171.6H361.2L363.4 173.7L361.2 175.9H352ZM365.8 173.7L368 171.6H377.2L379.4 173.7L377.2 175.9H368ZM381.8 173.7L384 171.6H393.2L395.4 173.7L393.2 175.9H384Z" fill="#ebebeb"/><path d="M319.8 173.7L321.2 172.4H328L329.4 173.7L328 175H321.2ZM335.8 173.7L337.2 172.4H344L345.4 173.7L344 175H337.2ZM351.8 173.7L353.2 172.4H360L361.4 173.7L360 175H353.2ZM367.8 173.7L369.2 172.4H376L377.4 173.7L376 175H369.2ZM383.8 173.7L385.2 172.4H392L393.4 173.7L392 175H385.2Z" fill="#f2f2f2"/>
<path d="M324.8 178.2L327.5 175.4H337.7L340.4 178.2L337.7 181.1H327.5Z" fill="#939393" stroke="#939393" stroke-width="0.4" stroke-linejoin="round"/><path d="M325.8 178.2L328 176.1H337.2L339.4 178.2L337.2 180.4H328Z" fill="#ebebeb"/><path d="M327.8 178.2L329.2 176.9H336L337.4 178.2L336 179.6H329.2Z" fill="#f2f2f2"/>
<path d="M455.1 129.3L457.8 126.5H468.6L471.3 129.3L468.6 132.2H457.8ZM430.5 133.9L433.2 131.1H444L446.8 133.9L444 136.8H433.2ZM446.9 133.9L449.6 131.1H460.4L463.1 133.9L460.4 136.8H449.6ZM463.2 133.9L466 131.1H476.8L479.5 133.9L476.8 136.8H466ZM405.9 138.5L408.6 135.7H419.4L422.1 138.5L419.4 141.3H408.6ZM422.2 138.5L425 135.7H435.8L438.5 138.5L435.8 141.3H425ZM438.7 138.5L441.4 135.7H452.2L454.9 138.5L452.2 141.3H441.4ZM455.1 138.5L457.8 135.7H468.6L471.3 138.5L468.6 141.3H457.8ZM471.4 138.5L474.2 135.7H484.9L487.7 138.5L484.9 141.3H474.2ZM397.7 143.1L400.4 140.2H411.2L413.9 143.1L411.2 145.9H400.4ZM414.1 143.1L416.8 140.2H427.6L430.3 143.1L427.6 145.9H416.8ZM430.5 143.1L433.2 140.2H444L446.8 143.1L444 145.9H433.2ZM446.9 143.1L449.6 140.2H460.4L463.1 143.1L460.4 145.9H449.6ZM463.2 143.1L466 140.2H476.8L479.5 143.1L476.8 145.9H466ZM405.9 147.7L408.6 144.8H419.4L422.1 147.7L419.4 150.5H408.6ZM422.2 147.7L425 144.8H435.8L438.5 147.7L435.8 150.5H425ZM438.7 147.7L441.4 144.8H452.2L454.9 147.7L452.2 150.5H441.4ZM455.1 147.7L457.8 144.8H468.6L471.3 147.7L468.6 150.5H457.8ZM471.4 147.7L474.2 144.8H484.9L487.7 147.7L484.9 150.5H474.2ZM414.1 152.3L416.8 149.5H427.6L430.3 152.3L427.6 155.2H416.8ZM430.5 152.3L433.2 149.5H444L446.8 152.3L444 155.2H433.2ZM446.9 152.3L449.6 149.5H460.4L463.1 152.3L460.4 155.2H449.6ZM463.2 152.3L466 149.5H476.8L479.5 152.3L476.8 155.2H466ZM405.9 156.9L408.6 154.1H419.4L422.1 156.9L419.4 159.8H408.6ZM422.2 156.9L425 154.1H435.8L438.5 156.9L435.8 159.8H425ZM438.7 156.9L441.4 154.1H452.2L454.9 156.9L452.2 159.8H441.4ZM455.1 156.9L457.8 154.1H468.6L471.3 156.9L468.6 159.8H457.8ZM471.4 156.9L474.2 154.1H484.9L487.7 156.9L484.9 159.8H474.2ZM397.7 161.5L400.4 158.7H411.2L413.9 161.5L411.2 164.3H400.4ZM414.1 161.5L416.8 158.7H427.6L430.3 161.5L427.6 164.3H416.8ZM430.5 161.5L433.2 158.7H444L446.8 161.5L444 164.3H433.2ZM446.9 161.5L449.6 158.7H460.4L463.1 161.5L460.4 164.3H449.6ZM463.2 161.5L466 158.7H476.8L479.5 161.5L476.8 164.3H466ZM405.9 166.1L408.6 163.2H419.4L422.1 166.1L419.4 168.9H408.6ZM422.2 166.1L425 163.2H435.8L438.5 166.1L435.8 168.9H425ZM438.7 166.1L441.4 163.2H452.2L454.9 166.1L452.2 168.9H441.4ZM455.1 166.1L457.8 163.2H468.6L471.3 166.1L468.6 168.9H457.8ZM414.1 170.7L416.8 167.8H427.6L430.3 170.7L427.6 173.5H416.8Z" fill="#5a5a5a" stroke="#5a5a5a" stroke-width="0.7" stroke-linejoin="round"/>
<path d="M455.1 127.6L457.9 124.8H468.5L471.3 127.6L468.5 130.5H457.9ZM430.5 132.2L433.3 129.4H443.9L446.7 132.2L443.9 135.1H433.3ZM446.9 132.2L449.7 129.4H460.3L463.1 132.2L460.3 135.1H449.7ZM463.3 132.2L466.1 129.4H476.7L479.5 132.2L476.7 135.1H466.1ZM405.9 136.8L408.7 134H419.3L422.1 136.8L419.3 139.7H408.7ZM422.3 136.8L425.1 134H435.7L438.5 136.8L435.7 139.7H425.1ZM438.7 136.8L441.5 134H452.1L454.9 136.8L452.1 139.7H441.5ZM455.1 136.8L457.9 134H468.5L471.3 136.8L468.5 139.7H457.9ZM471.5 136.8L474.3 134H484.9L487.7 136.8L484.9 139.7H474.3ZM397.7 141.4L400.5 138.6H411.1L413.9 141.4L411.1 144.3H400.5ZM414.1 141.4L416.9 138.6H427.5L430.3 141.4L427.5 144.3H416.9ZM430.5 141.4L433.3 138.6H443.9L446.7 141.4L443.9 144.3H433.3ZM446.9 141.4L449.7 138.6H460.3L463.1 141.4L460.3 144.3H449.7ZM463.3 141.4L466.1 138.6H476.7L479.5 141.4L476.7 144.3H466.1ZM405.9 146L408.7 143.2H419.3L422.1 146L419.3 148.9H408.7ZM422.3 146L425.1 143.2H435.7L438.5 146L435.7 148.9H425.1ZM438.7 146L441.5 143.2H452.1L454.9 146L452.1 148.9H441.5ZM455.1 146L457.9 143.2H468.5L471.3 146L468.5 148.9H457.9ZM471.5 146L474.3 143.2H484.9L487.7 146L484.9 148.9H474.3ZM414.1 150.7L416.9 147.8H427.5L430.3 150.7L427.5 153.5H416.9ZM430.5 150.7L433.3 147.8H443.9L446.7 150.7L443.9 153.5H433.3ZM446.9 150.7L449.7 147.8H460.3L463.1 150.7L460.3 153.5H449.7ZM463.3 150.7L466.1 147.8H476.7L479.5 150.7L476.7 153.5H466.1ZM405.9 155.2L408.7 152.4H419.3L422.1 155.2L419.3 158.1H408.7ZM422.3 155.2L425.1 152.4H435.7L438.5 155.2L435.7 158.1H425.1ZM438.7 155.2L441.5 152.4H452.1L454.9 155.2L452.1 158.1H441.5ZM455.1 155.2L457.9 152.4H468.5L471.3 155.2L468.5 158.1H457.9ZM471.5 155.2L474.3 152.4H484.9L487.7 155.2L484.9 158.1H474.3ZM397.7 159.8L400.5 157H411.1L413.9 159.8L411.1 162.7H400.5ZM414.1 159.8L416.9 157H427.5L430.3 159.8L427.5 162.7H416.9ZM430.5 159.8L433.3 157H443.9L446.7 159.8L443.9 162.7H433.3ZM446.9 159.8L449.7 157H460.3L463.1 159.8L460.3 162.7H449.7ZM463.3 159.8L466.1 157H476.7L479.5 159.8L476.7 162.7H466.1ZM405.9 164.4L408.7 161.6H419.3L422.1 164.4L419.3 167.3H408.7ZM422.3 164.4L425.1 161.6H435.7L438.5 164.4L435.7 167.3H425.1ZM438.7 164.4L441.5 161.6H452.1L454.9 164.4L452.1 167.3H441.5ZM455.1 164.4L457.9 161.6H468.5L471.3 164.4L468.5 167.3H457.9ZM414.1 169L416.9 166.2H427.5L430.3 169L427.5 171.9H416.9Z" fill="#f4f4f4" stroke="#c8c8c8" stroke-width="0.5" stroke-linejoin="round"/>
<path d="M444.2 130.9L446.8 129.2L449.4 130.9L446.8 132.6ZM460.6 130.9L463.2 129.2L465.8 130.9L463.2 132.6ZM419.6 135.5L422.2 133.8L424.8 135.5L422.2 137.2ZM436 135.5L438.6 133.8L441.2 135.5L438.6 137.2ZM452.4 135.5L455 133.8L457.6 135.5L455 137.2ZM468.8 135.5L471.4 133.8L474 135.5L471.4 137.2ZM411.4 140.1L414 138.4L416.6 140.1L414 141.8ZM427.8 140.1L430.4 138.4L433 140.1L430.4 141.8ZM444.2 140.1L446.8 138.4L449.4 140.1L446.8 141.8ZM460.6 140.1L463.2 138.4L465.8 140.1L463.2 141.8ZM419.6 144.7L422.2 143L424.8 144.7L422.2 146.4ZM436 144.7L438.6 143L441.2 144.7L438.6 146.4ZM452.4 144.7L455 143L457.6 144.7L455 146.4ZM468.8 144.7L471.4 143L474 144.7L471.4 146.4ZM427.8 149.3L430.4 147.6L433 149.3L430.4 151ZM444.2 149.3L446.8 147.6L449.4 149.3L446.8 151ZM460.6 149.3L463.2 147.6L465.8 149.3L463.2 151ZM419.6 153.9L422.2 152.2L424.8 153.9L422.2 155.6ZM436 153.9L438.6 152.2L441.2 153.9L438.6 155.6ZM452.4 153.9L455 152.2L457.6 153.9L455 155.6ZM468.8 153.9L471.4 152.2L474 153.9L471.4 155.6ZM411.4 158.5L414 156.8L416.6 158.5L414 160.2ZM427.8 158.5L430.4 156.8L433 158.5L430.4 160.2ZM444.2 158.5L446.8 156.8L449.4 158.5L446.8 160.2ZM460.6 158.5L463.2 156.8L465.8 158.5L463.2 160.2ZM419.6 163.1L422.2 161.4L424.8 163.1L422.2 164.8ZM436 163.1L438.6 161.4L441.2 163.1L438.6 164.8ZM452.4 163.1L455 161.4L457.6 163.1L455 164.8Z" fill="#979797"/>
<path d="M455.2 126.3L458 123.5H468.4L471.1 126.3L468.4 129.2H458Z" fill="#939393" stroke="#939393" stroke-width="0.4" stroke-linejoin="round"/><path d="M456.2 126.3L458.4 124.1H467.9L470.1 126.3L467.9 128.5H458.4Z" fill="#ebebeb"/><path d="M458.2 126.3L459.7 125H466.7L468.1 126.3L466.7 127.6H459.7Z" fill="#f2f2f2"/>
<path d="M430.7 130.9L433.4 128.1H443.8L446.6 130.9L443.8 133.8H433.4ZM447.1 130.9L449.8 128.1H460.2L462.9 130.9L460.2 133.8H449.8ZM463.4 130.9L466.2 128.1H476.6L479.3 130.9L476.6 133.8H466.2Z" fill="#939393" stroke="#939393" stroke-width="0.4" stroke-linejoin="round"/><path d="M431.7 130.9L433.9 128.7H443.4L445.6 130.9L443.4 133.1H433.9ZM448.1 130.9L450.2 128.7H459.8L461.9 130.9L459.8 133.1H450.2ZM464.4 130.9L466.6 128.7H476.1L478.3 130.9L476.1 133.1H466.6Z" fill="#ebebeb"/><path d="M433.7 130.9L435.1 129.6H442.1L443.6 130.9L442.1 132.2H435.1ZM450.1 130.9L451.5 129.6H458.5L459.9 130.9L458.5 132.2H451.5ZM466.4 130.9L467.9 129.6H474.9L476.3 130.9L474.9 132.2H467.9Z" fill="#f2f2f2"/>
<path d="M406.1 135.5L408.8 132.7H419.2L421.9 135.5L419.2 138.3H408.8ZM422.4 135.5L425.2 132.7H435.6L438.3 135.5L435.6 138.3H425.2ZM438.9 135.5L441.6 132.7H452L454.8 135.5L452 138.3H441.6ZM455.2 135.5L458 132.7H468.4L471.1 135.5L468.4 138.3H458ZM471.6 135.5L474.4 132.7H484.8L487.5 135.5L484.8 138.3H474.4Z" fill="#939393" stroke="#939393" stroke-width="0.4" stroke-linejoin="round"/><path d="M407.1 135.5L409.2 133.3H418.8L420.9 135.5L418.8 137.7H409.2ZM423.4 135.5L425.6 133.3H435.1L437.3 135.5L435.1 137.7H425.6ZM439.9 135.5L442.1 133.3H451.6L453.8 135.5L451.6 137.7H442.1ZM456.2 135.5L458.4 133.3H467.9L470.1 135.5L467.9 137.7H458.4ZM472.6 135.5L474.8 133.3H484.3L486.5 135.5L484.3 137.7H474.8Z" fill="#ebebeb"/><path d="M409.1 135.5L410.5 134.2H417.5L418.9 135.5L417.5 136.8H410.5ZM425.4 135.5L426.9 134.2H433.9L435.3 135.5L433.9 136.8H426.9ZM441.9 135.5L443.3 134.2H450.3L451.8 135.5L450.3 136.8H443.3ZM458.2 135.5L459.7 134.2H466.7L468.1 135.5L466.7 136.8H459.7ZM474.6 135.5L476.1 134.2H483.1L484.5 135.5L483.1 136.8H476.1Z" fill="#f2f2f2"/>
<path d="M397.9 140.1L400.6 137.2H411L413.8 140.1L411 142.9H400.6ZM414.2 140.1L417 137.2H427.4L430.1 140.1L427.4 142.9H417ZM430.7 140.1L433.4 137.2H443.8L446.6 140.1L443.8 142.9H433.4ZM447.1 140.1L449.8 137.2H460.2L462.9 140.1L460.2 142.9H449.8ZM463.4 140.1L466.2 137.2H476.6L479.3 140.1L476.6 142.9H466.2Z" fill="#939393" stroke="#939393" stroke-width="0.4" stroke-linejoin="round"/><path d="M398.9 140.1L401.1 137.9H410.6L412.8 140.1L410.6 142.3H401.1ZM415.2 140.1L417.4 137.9H426.9L429.1 140.1L426.9 142.3H417.4ZM431.7 140.1L433.9 137.9H443.4L445.6 140.1L443.4 142.3H433.9ZM448.1 140.1L450.2 137.9H459.8L461.9 140.1L459.8 142.3H450.2ZM464.4 140.1L466.6 137.9H476.1L478.3 140.1L476.1 142.3H466.6Z" fill="#ebebeb"/><path d="M400.9 140.1L402.3 138.8H409.3L410.8 140.1L409.3 141.4H402.3ZM417.2 140.1L418.7 138.8H425.7L427.1 140.1L425.7 141.4H418.7ZM433.7 140.1L435.1 138.8H442.1L443.6 140.1L442.1 141.4H435.1ZM450.1 140.1L451.5 138.8H458.5L459.9 140.1L458.5 141.4H451.5ZM466.4 140.1L467.9 138.8H474.9L476.3 140.1L474.9 141.4H467.9Z" fill="#f2f2f2"/>
<path d="M406.1 144.7L408.8 141.8H419.2L421.9 144.7L419.2 147.5H408.8ZM422.4 144.7L425.2 141.8H435.6L438.3 144.7L435.6 147.5H425.2ZM438.9 144.7L441.6 141.8H452L454.8 144.7L452 147.5H441.6ZM455.2 144.7L458 141.8H468.4L471.1 144.7L468.4 147.5H458ZM471.6 144.7L474.4 141.8H484.8L487.5 144.7L484.8 147.5H474.4Z" fill="#939393" stroke="#939393" stroke-width="0.4" stroke-linejoin="round"/><path d="M407.1 144.7L409.2 142.5H418.8L420.9 144.7L418.8 146.9H409.2ZM423.4 144.7L425.6 142.5H435.1L437.3 144.7L435.1 146.9H425.6ZM439.9 144.7L442.1 142.5H451.6L453.8 144.7L451.6 146.9H442.1ZM456.2 144.7L458.4 142.5H467.9L470.1 144.7L467.9 146.9H458.4ZM472.6 144.7L474.8 142.5H484.3L486.5 144.7L484.3 146.9H474.8Z" fill="#ebebeb"/><path d="M409.1 144.7L410.5 143.3H417.5L418.9 144.7L417.5 146H410.5ZM425.4 144.7L426.9 143.3H433.9L435.3 144.7L433.9 146H426.9ZM441.9 144.7L443.3 143.3H450.3L451.8 144.7L450.3 146H443.3ZM458.2 144.7L459.7 143.3H466.7L468.1 144.7L466.7 146H459.7ZM474.6 144.7L476.1 143.3H483.1L484.5 144.7L483.1 146H476.1Z" fill="#f2f2f2"/>
<path d="M414.2 149.3L417 146.5H427.4L430.1 149.3L427.4 152.2H417ZM430.7 149.3L433.4 146.5H443.8L446.6 149.3L443.8 152.2H433.4ZM447.1 149.3L449.8 146.5H460.2L462.9 149.3L460.2 152.2H449.8ZM463.4 149.3L466.2 146.5H476.6L479.3 149.3L476.6 152.2H466.2Z" fill="#939393" stroke="#939393" stroke-width="0.4" stroke-linejoin="round"/><path d="M415.2 149.3L417.4 147.1H426.9L429.1 149.3L426.9 151.5H417.4ZM431.7 149.3L433.9 147.1H443.4L445.6 149.3L443.4 151.5H433.9ZM448.1 149.3L450.2 147.1H459.8L461.9 149.3L459.8 151.5H450.2ZM464.4 149.3L466.6 147.1H476.1L478.3 149.3L476.1 151.5H466.6Z" fill="#ebebeb"/><path d="M417.2 149.3L418.7 148H425.7L427.1 149.3L425.7 150.7H418.7ZM433.7 149.3L435.1 148H442.1L443.6 149.3L442.1 150.7H435.1ZM450.1 149.3L451.5 148H458.5L459.9 149.3L458.5 150.7H451.5ZM466.4 149.3L467.9 148H474.9L476.3 149.3L474.9 150.7H467.9Z" fill="#f2f2f2"/>
<path d="M406.1 153.9L408.8 151.1H419.2L421.9 153.9L419.2 156.8H408.8ZM422.4 153.9L425.2 151.1H435.6L438.3 153.9L435.6 156.8H425.2ZM438.9 153.9L441.6 151.1H452L454.8 153.9L452 156.8H441.6ZM455.2 153.9L458 151.1H468.4L471.1 153.9L468.4 156.8H458ZM471.6 153.9L474.4 151.1H484.8L487.5 153.9L484.8 156.8H474.4Z" fill="#939393" stroke="#939393" stroke-width="0.4" stroke-linejoin="round"/><path d="M407.1 153.9L409.2 151.7H418.8L420.9 153.9L418.8 156.1H409.2ZM423.4 153.9L425.6 151.7H435.1L437.3 153.9L435.1 156.1H425.6ZM439.9 153.9L442.1 151.7H451.6L453.8 153.9L451.6 156.1H442.1ZM456.2 153.9L458.4 151.7H467.9L470.1 153.9L467.9 156.1H458.4ZM472.6 153.9L474.8 151.7H484.3L486.5 153.9L484.3 156.1H474.8Z" fill="#ebebeb"/><path d="M409.1 153.9L410.5 152.6H417.5L418.9 153.9L417.5 155.2H410.5ZM425.4 153.9L426.9 152.6H433.9L435.3 153.9L433.9 155.2H426.9ZM441.9 153.9L443.3 152.6H450.3L451.8 153.9L450.3 155.2H443.3ZM458.2 153.9L459.7 152.6H466.7L468.1 153.9L466.7 155.2H459.7ZM474.6 153.9L476.1 152.6H483.1L484.5 153.9L483.1 155.2H476.1Z" fill="#f2f2f2"/>
<path d="M397.9 158.5L400.6 155.7H411L413.8 158.5L411 161.3H400.6ZM414.2 158.5L417 155.7H427.4L430.1 158.5L427.4 161.3H417ZM430.7 158.5L433.4 155.7H443.8L446.6 158.5L443.8 161.3H433.4ZM447.1 158.5L449.8 155.7H460.2L462.9 158.5L460.2 161.3H449.8ZM463.4 158.5L466.2 155.7H476.6L479.3 158.5L476.6 161.3H466.2Z" fill="#939393" stroke="#939393" stroke-width="0.4" stroke-linejoin="round"/><path d="M398.9 158.5L401.1 156.3H410.6L412.8 158.5L410.6 160.7H401.1ZM415.2 158.5L417.4 156.3H426.9L429.1 158.5L426.9 160.7H417.4ZM431.7 158.5L433.9 156.3H443.4L445.6 158.5L443.4 160.7H433.9ZM448.1 158.5L450.2 156.3H459.8L461.9 158.5L459.8 160.7H450.2ZM464.4 158.5L466.6 156.3H476.1L478.3 158.5L476.1 160.7H466.6Z" fill="#ebebeb"/><path d="M400.9 158.5L402.3 157.2H409.3L410.8 158.5L409.3 159.8H402.3ZM417.2 158.5L418.7 157.2H425.7L427.1 158.5L425.7 159.8H418.7ZM433.7 158.5L435.1 157.2H442.1L443.6 158.5L442.1 159.8H435.1ZM450.1 158.5L451.5 157.2H458.5L459.9 158.5L458.5 159.8H451.5ZM466.4 158.5L467.9 157.2H474.9L476.3 158.5L474.9 159.8H467.9Z" fill="#f2f2f2"/>
<path d="M406.1 163.1L408.8 160.2H419.2L421.9 163.1L419.2 165.9H408.8ZM422.4 163.1L425.2 160.2H435.6L438.3 163.1L435.6 165.9H425.2ZM438.9 163.1L441.6 160.2H452L454.8 163.1L452 165.9H441.6ZM455.2 163.1L458 160.2H468.4L471.1 163.1L468.4 165.9H458Z" fill="#939393" stroke="#939393" stroke-width="0.4" stroke-linejoin="round"/><path d="M407.1 163.1L409.2 160.9H418.8L420.9 163.1L418.8 165.3H409.2ZM423.4 163.1L425.6 160.9H435.1L437.3 163.1L435.1 165.3H425.6ZM439.9 163.1L442.1 160.9H451.6L453.8 163.1L451.6 165.3H442.1ZM456.2 163.1L458.4 160.9H467.9L470.1 163.1L467.9 165.3H458.4Z" fill="#ebebeb"/><path d="M409.1 163.1L410.5 161.8H417.5L418.9 163.1L417.5 164.4H410.5ZM425.4 163.1L426.9 161.8H433.9L435.3 163.1L433.9 164.4H426.9ZM441.9 163.1L443.3 161.8H450.3L451.8 163.1L450.3 164.4H443.3ZM458.2 163.1L459.7 161.8H466.7L468.1 163.1L466.7 164.4H459.7Z" fill="#f2f2f2"/>
<path d="M414.2 167.7L417 164.8H427.4L430.1 167.7L427.4 170.5H417Z" fill="#939393" stroke="#939393" stroke-width="0.4" stroke-linejoin="round"/><path d="M415.2 167.7L417.4 165.5H426.9L429.1 167.7L426.9 169.9H417.4Z" fill="#ebebeb"/><path d="M417.2 167.7L418.7 166.3H425.7L427.1 167.7L425.7 169H418.7Z" fill="#f2f2f2"/>
<rect x="377.5" y="119" width="38.5" height="67" fill="none" stroke="#2a9fe0" stroke-width="1.1" stroke-dasharray="4.2 2.6"/>
<text x="256.8" y="133.6" font-size="9.1" font-weight="bold" text-anchor="start" fill="#000">Tensile loading</text>
<text x="489" y="133.4" font-size="9.1" font-weight="bold" text-anchor="start" fill="#000">Tensile loading</text>
<path d="M265 148.5l7.3-6v3h26v6h-26v3z" fill="#1f6fc6"/>
<path d="M533.8 147.6l-6.2-6.2v3h-25.8v6.4h25.8v3z" fill="#1f6fc6"/>
</g>
<g id="pc">
<clipPath id="cpc"><rect x="54.2" y="209.5" width="181.3" height="36.3"/></clipPath>
<g clip-path="url(#cpc)"><g filter="url(#bl)">
<rect x="51.2" y="206.5" width="187.3" height="42.3" fill="#f1f0ed"/>
<path d="M54 209L89 209L89 221L54 229Z" fill="#dcdad5"/><path d="M54 240L89 236V246H54Z" fill="#f8f8f6"/>
<path d="M89.6 209H124V214L89.6 226Z" fill="#e2e1dd"/><path d="M98 240L124 232V246H92Z" fill="#fafaf8"/>
<path d="M124 209H159V222L124 226Z" fill="#e9e8e5"/><path d="M124 238L159 234V246H124Z" fill="#f9f9f7"/>
<path d="M159 209H197V224L180 228L159 222Z" fill="#e6e5e2"/><path d="M159 240L197 236V246H159Z" fill="#fbfbf9"/>
<path d="M197 209H236V226L214 230L197 222Z" fill="#eae9e6"/><path d="M197 241L236 240V246H197Z" fill="#fafaf8"/>
<path d="M61.5 226.3L80.6 225.8L80.8 237L62 237.8Z" fill="#1b1e1c"/><path d="M70 229l6 -0.6" stroke="#6a6f6c" stroke-width="0.8"/>
<path d="M54.2 226Q60 224 62.5 228L62.5 238Q60 241 58 246H54.2Z" fill="#efdcb2"/>
<path d="M89.6 213Q84 214 82.5 222Q79.5 226 80.5 238Q82 243 84 246H89.6Z" fill="#efdcb2"/><path d="M84 222Q86 230 84 238" stroke="#d9bd88" stroke-width="1.4" fill="none"/>
<path d="M94 226.5L98 227.2L114.5 236.2L113.8 239.6L99 241.2L94 238.5Z" fill="#1b1e1c"/><path d="M99 236l8 2" stroke="#5c615e" stroke-width="0.7"/>
<path d="M89.6 223Q94 224 95 230Q95 238 93 246H89.6Z" fill="#efdcb2"/>
<path d="M124.2 212Q118.5 213 117.5 221Q113.5 227 114.5 238Q116 243 117 246H124.2Z" fill="#efdcb2"/><path d="M118 224Q120 231 118 240" stroke="#d9bd88" stroke-width="1.4" fill="none"/>
<path d="M131 227.5L138 231.2L155 231.5L155 235L138 236.4L131 238Z" fill="#222a26"/>
<path d="M124.2 224Q130 223 132 228Q133 236 130 241Q128 244 127 246H124.2Z" fill="#efdcb2"/>
<path d="M159.2 223Q153 224 151.5 229Q151 236 154 240Q156 243 159.2 243Z" fill="#efdcb2"/>
<path d="M159.2 223Q166 223 168.5 228Q169 233 166 236Q162 238 159.2 241Z" fill="#efdcb2"/>
<path d="M167.5 229L176 230.2L182 232.5L189 230.5L189.5 234.5L182 236.2L176 234L167.5 233.6Z" fill="#2a332e"/>
<path d="M196.8 219Q190 220 188.5 226Q186.5 231 189 236Q192 240 196.8 240Z" fill="#efdcb2"/>
<path d="M196.8 222Q203 221 206 226Q208.5 230 207 236Q204 240 203 246H196.8Z" fill="#efdcb2"/><path d="M199 236Q203 233 206 236" stroke="#d9bd88" stroke-width="1.3" fill="none"/><path d="M198 228Q202 226 205 229" stroke="#d9bd88" stroke-width="1.1" fill="none"/>
<path d="M206.5 228.6L218 230.6L231 233.2L231 238.8L218 235.6L206.5 233.6Z" fill="#242c28"/>
<path d="M235.5 226Q230 227 228.8 232Q228 239 230 246H235.5Z" fill="#efdcb2"/><path d="M230 236Q232.5 238 235 236.5" stroke="#d9bd88" stroke-width="1.2" fill="none"/>
<path d="M86 226q1.5 5 0 10M120.5 226q1.5 5 0 10M163 227q2 2 1 5M192 224q2 3 1 7M201 225q2 1 3 3" stroke="#f8efd6" stroke-width="1.6" fill="none" stroke-linecap="round"/>
</g></g>
<text x="71.9" y="219.2" font-size="9.2" font-weight="bold" text-anchor="middle" fill="#111">0 °</text>
<text x="106.9" y="219.2" font-size="9.2" font-weight="bold" text-anchor="middle" fill="#111">45 °</text>
<text x="141.7" y="219.2" font-size="9.2" font-weight="bold" text-anchor="middle" fill="#111">90 °</text>
<text x="178" y="219.2" font-size="9.2" font-weight="bold" text-anchor="middle" fill="#111">135 °</text>
<text x="216.2" y="219.2" font-size="9.2" font-weight="bold" text-anchor="middle" fill="#111">180 °</text>
<path d="M45.3 206.6H248.2V376.3" stroke="#444" stroke-width="0.8" fill="none"/>
<path d="M45.3 206.6V376.3H248.2" stroke="#111" stroke-width="1" fill="none"/>
<path d="M45.3 367.4h3.2M45.3 348.4h1.8M45.3 329.5h3.2M45.3 310.5h1.8M45.3 291.6h3.2M45.3 272.6h1.8M45.3 253.7h3.2M45.3 234.7h1.8M45.3 215.8h3.2M63.6 376.3v-3.2M84.3 376.3v-1.8M105.1 376.3v-3.2M125.8 376.3v-1.8M146.6 376.3v-3.2M167.3 376.3v-1.8M188.1 376.3v-3.2M208.8 376.3v-1.8M229.6 376.3v-3.2" stroke="#111" stroke-width="0.8" fill="none"/>
<text x="40.5" y="371.8" font-size="13.5" font-weight="bold" text-anchor="end" fill="#000">0</text>
<text x="40.5" y="333.9" font-size="13.5" font-weight="bold" text-anchor="end" fill="#000">20</text>
<text x="40.5" y="296" font-size="13.5" font-weight="bold" text-anchor="end" fill="#000">40</text>
<text x="40.5" y="258.1" font-size="13.5" font-weight="bold" text-anchor="end" fill="#000">60</text>
<text x="40.5" y="220.2" font-size="13.5" font-weight="bold" text-anchor="end" fill="#000">80</text>
<text x="63.6" y="391" font-size="13.5" font-weight="bold" text-anchor="middle" fill="#000">0</text>
<text x="105.1" y="391" font-size="13.5" font-weight="bold" text-anchor="middle" fill="#000">45</text>
<text x="146.6" y="391" font-size="13.5" font-weight="bold" text-anchor="middle" fill="#000">90</text>
<text x="188.1" y="391" font-size="13.5" font-weight="bold" text-anchor="middle" fill="#000">135</text>
<text x="229.6" y="391" font-size="13.5" font-weight="bold" text-anchor="middle" fill="#000">180</text>
<path d="M63.6 369.1 L69.1 368 L74.7 366.8 L80.2 365.3 L85.7 363.7 L91.3 361.9 L96.8 359.9 L102.3 357.7 L107.9 355.3 L113.4 352.8 L118.9 350.1 L124.5 347.2 L130 344.1 L135.5 340.8 L141.1 337.3 L146.6 333.7 L152.1 329.9 L157.7 325.9 L163.2 321.7 L168.7 317.3 L174.3 312.7 L179.8 308 L185.3 303.1 L190.9 298 L196.4 292.7 L201.9 287.2 L207.5 281.6 L213 275.7 L218.5 269.7 L224.1 263.5 L229.6 257.1" stroke="#111" stroke-width="1" fill="none"/>
<rect x="61.8" y="365.6" width="3.6" height="3.6" fill="#111"/>
<rect x="103.3" y="359.3" width="3.6" height="3.6" fill="#111"/>
<rect x="144.8" y="329.6" width="3.6" height="3.6" fill="#111"/>
<rect x="186.3" y="298.3" width="3.6" height="3.6" fill="#111"/>
<rect x="227.8" y="256.6" width="3.6" height="3.6" fill="#111"/>
<text x="60.5" y="255.5" font-size="17" font-weight="bold" text-anchor="start" fill="#000">(c)</text>
<text x="52.2" y="272.5" font-size="11.6" font-weight="bold" text-anchor="start" fill="#111">ΔR/R=</text>
<text x="52.2" y="293" font-size="11.6" font-weight="bold" text-anchor="start" fill="#111">0.00134x<tspan font-size="9.5" dy="-4.5">2</tspan><tspan dy="4.5">+0.08709x-0.90703</tspan></text>
<text x="52.2" y="311.5" font-size="11.6" font-weight="bold" text-anchor="start" fill="#111">R-Square=0.996</text>
<text x="147.2" y="407.6" font-size="16.7" font-weight="bold" text-anchor="middle" fill="#000">twist angle (°)</text>
<text x="22" y="292" font-size="17.5" font-weight="bold" text-anchor="middle" fill="#000" transform="rotate(-90 22 292)">|ΔR| /R<tspan font-size="14" dy="2">0</tspan><tspan dy="-2"> (%)</tspan></text>
</g>
<g id="pd">
<clipPath id="cpd"><rect x="311" y="208.6" width="179.5" height="34.8"/></clipPath>
<g clip-path="url(#cpd)"><g filter="url(#bl)">
<rect x="308" y="205.6" width="185.5" height="40.8" fill="#d0d0d0"/>
<rect x="311" y="205" width="31.4" height="42" fill="url(#gd1)"/>
<rect x="342.4" y="205" width="36.4" height="42" fill="url(#gd2)"/>
<rect x="378.8" y="205" width="41.2" height="42" fill="url(#gd3)"/>
<rect x="420" y="205" width="35.6" height="42" fill="url(#gd4)"/>
<rect x="455.6" y="205" width="35" height="42" fill="url(#gd5)"/>
<path d="M311 213.5L314 214.5L318 223L317 226L315.5 236L311 240Z" fill="#d8bd94"/>
<path d="M342.4 208L340 209L335.5 222.5L337.5 229L338.5 244H342.4Z" fill="#d8bd94"/>
<path d="M317.5 224.3Q326 228.2 335.8 226.8" stroke="#5a5e5f" stroke-width="1.2" fill="none"/>
<path d="M317 229Q327 232.5 336 230.5L337 244H316Z" fill="#dedede" opacity="0.9"/>
<path d="M342.4 208H350.5L346.5 221L349.5 228.5L350 244H342.4Z" fill="#d8bd94"/><path d="M345.5 226L349 228.5" stroke="#c4a274" stroke-width="1.5"/>
<path d="M346.5 224.8L360 221L366.5 219.4L374.8 230.5" stroke="#5a5e5f" stroke-width="1.3" fill="none" stroke-linejoin="round"/>
<path d="M374 230L378.8 229.5V244H373Z" fill="#c4a274"/>
<path d="M378.8 229.5L385.5 231.5L383.5 244H378.8Z" fill="#c4a274"/><path d="M380.5 236h3" stroke="#8a6a3e" stroke-width="1.4"/>
<path d="M385 231.5L396.5 221.2L402.5 220.2L413 232.2" stroke="#5a5e5f" stroke-width="1.4" fill="none" stroke-linejoin="round"/>
<path d="M404 222L416 236" stroke="#9a9a9a" stroke-width="2.6" opacity="0.6"/>
<path d="M412.5 233.5H420V241.5H413.5Z" fill="#d8bd94"/>
<path d="M420 233.5H429.5V241.5H420Z" fill="#d8bd94"/>
<path d="M424.5 232.5L438.8 215.2" stroke="#4e5253" stroke-width="2" fill="none"/><path d="M438.8 215.2L447 233" stroke="#6d7172" stroke-width="2.6" fill="none"/>
<path d="M443 226L447.5 236" stroke="#f2f2f2" stroke-width="2.4"/>
<path d="M445.5 236.5L455.6 235.5V244H445Z" fill="#c4a274"/>
<path d="M461 239.5L484 238L491 241V244H461Z" fill="#c4a274"/>
<path d="M474.6 219.5Q477.6 222 476.6 229Q476 235 475.6 238.5H473.9Q473.4 235 472.9 229Q472 222 474.6 219.5Z" fill="#44524f"/>
<path d="M477 236L488 240" stroke="#e8e8e8" stroke-width="1.2" opacity="0.8"/>
</g></g>
<text x="326.7" y="218.7" font-size="9.4" font-weight="bold" text-anchor="middle" fill="#111">0 °</text>
<text x="360.6" y="218.7" font-size="9.4" font-weight="bold" text-anchor="middle" fill="#111">45 °</text>
<text x="399.4" y="218.7" font-size="9.4" font-weight="bold" text-anchor="middle" fill="#111">90 °</text>
<text x="437.8" y="218.7" font-size="9.4" font-weight="bold" text-anchor="middle" fill="#111">135 °</text>
<text x="473.1" y="218.7" font-size="9.4" font-weight="bold" text-anchor="middle" fill="#111">180 °</text>
<path d="M300.3 205H508.7V373.8" stroke="#444" stroke-width="0.8" fill="none"/>
<path d="M300.3 205V373.8H508.7" stroke="#111" stroke-width="1" fill="none"/>
<path d="M300.3 361.8h3.2M300.3 337.9h1.8M300.3 313.9h3.2M300.3 290h1.8M300.3 266h3.2M300.3 242.1h1.8M300.3 218.1h3.2M318.6 373.8v-3.2M339.8 373.8v-1.8M361.1 373.8v-3.2M382.3 373.8v-1.8M403.6 373.8v-3.2M424.8 373.8v-1.8M446.1 373.8v-3.2M467.3 373.8v-1.8M488.6 373.8v-3.2" stroke="#111" stroke-width="0.8" fill="none"/>
<text x="296" y="366.2" font-size="13.5" text-anchor="end" fill="#000">0</text>
<text x="296" y="318.3" font-size="13.5" text-anchor="end" fill="#000">20</text>
<text x="296" y="270.4" font-size="13.5" text-anchor="end" fill="#000">40</text>
<text x="296" y="222.5" font-size="13.5" text-anchor="end" fill="#000">60</text>
<text x="318.6" y="390.5" font-size="13.5" text-anchor="middle" fill="#000">0</text>
<text x="361.1" y="390.5" font-size="13.5" text-anchor="middle" fill="#000">45</text>
<text x="403.6" y="390.5" font-size="13.5" text-anchor="middle" fill="#000">90</text>
<text x="446.1" y="390.5" font-size="13.5" text-anchor="middle" fill="#000">135</text>
<text x="488.6" y="390.5" font-size="13.5" text-anchor="middle" fill="#000">180</text>
<path d="M318.6 361.8C325.7 358.6 346.9 348.9 361.1 342.9C375.3 336.8 389.4 333.5 403.6 325.4C417.8 317.3 431.9 304 446.1 294C460.3 284 481.5 270.3 488.6 265.5" stroke="#111" stroke-width="1" fill="none"/>
<rect x="316.8" y="360" width="3.6" height="3.6" fill="#111"/>
<rect x="359.3" y="340.4" width="3.6" height="3.6" fill="#111"/>
<rect x="401.8" y="327.7" width="3.6" height="3.6" fill="#111"/>
<rect x="444.3" y="291.7" width="3.6" height="3.6" fill="#111"/>
<rect x="486.8" y="263.7" width="3.6" height="3.6" fill="#111"/>
<text x="311.5" y="259.3" font-size="17" font-weight="bold" text-anchor="start" fill="#000">(d)</text>
<text x="314.8" y="274.3" font-size="11.6" font-weight="bold" text-anchor="start" fill="#111">ΔR/R<tspan font-size="10" dy="2">0</tspan><tspan dy="-2">=0.22446x-2.0502</tspan></text>
<text x="314.8" y="294.7" font-size="11.6" font-weight="bold" text-anchor="start" fill="#111">R-Square=0.99</text>
<text x="393.6" y="407.8" font-size="16.9" font-weight="bold" text-anchor="middle" fill="#000">bending angle (°)</text>
<text x="273.5" y="293" font-size="17.5" font-weight="bold" text-anchor="middle" fill="#000" transform="rotate(-90 273.5 293)">|ΔR| / R<tspan font-size="14" dy="2">0</tspan><tspan dy="-2"> (%)</tspan></text>
</g>
<g id="pe">
<path d="M93.4 624.7 94.4 623.8 95.4 624 96.4 622.8 97.4 622.9 98.4 622.6 99.4 622.9 100.4 622 101.3 622.3 102.3 621.4 103.3 621 104.3 621.6 105.3 621.3 106.3 620.7 107.3 620.5 108.3 620.6 109.3 621.1 110.3 621.3 111.3 620.9 112.3 620.3 113.3 619.8 114.3 620.5 115.3 620.6 116.3 620.7 117.2 619.4 118.2 619.7 119.2 619.1 120.2 620.1 121.2 619.6 122.2 620.3 123.2 619.3 124.2 619.2 125.2 619.2 126.2 619.2 127.2 619.5 128.2 618.9 129.2 619.5 130.2 619.7 131.2 619.4 132.1 618.6 133.1 618.5 134.1 619 135.1 619.5 136.1 618.5 137.1 618.5 138.1 619 139.1 619.7 140.1 619 141.1 618.5 142.1 619.1 143.1 618.7 144.1 618.2 145.1 618.2 146.1 619.2 147.1 618.8 148 619.1 149 618.9 150 619.2 151 618.2 152 619.3 153 618.7 154 619.3 155 617.9 156 618.9 157 618.4 158 619.1 159 619.2 160 618.1 161 618.6 162 618.6 162.9 618.4 163.9 618.6 164.9 617.9 165.9 619 166.9 618 167.9 619 168.9 618 169.9 617.8 170.9 619 171.9 617.7 172.9 618 173.9 618 174.9 618.3 175.9 618.7 176.9 618.6 177.8 619 178.8 618 179.8 618.1 180.8 617.7 181.8 617.7 182.8 618.8 183.8 618.6 184.8 618.6 185.8 618.2 186.8 618.3 187.8 618.5 188.8 618.3 189.8 617.8 190.8 617.7 191.8 618.3 192.8 618 193.7 618.7 194.7 617.7 195.7 618.5 196.7 618.8 197.7 618.1 198.7 618.3 199.7 617.5 200.7 618.5 201.7 617.5 202.7 617.7 203.7 617.9 204.7 617.4 205.7 618.1 206.7 618 207.7 618.6 208.6 617.5 209.6 618 210.6 618.4 211.6 617.7 212.6 618.4 213.6 618.1 214.6 618.3 215.6 618.3 216.6 618.7 217.6 618.5 218.6 617.6 219.6 618.2 220.6 618.5 221.6 617.6 222.6 617.9 223.6 617.7 224.5 617.9 225.5 617.8 226.5 618.5 227.5 617.8 228.5 617.4 229.5 618.7 230.5 617.9 231.5 617.7 232.5 617.3 233.5 617.5 234.5 617.5 235.5 618.6 236.5 617.6 237.5 618.2 238.5 618.4 239.4 618.1 240.4 618.7 241.4 618 242.4 618 243.4 618.4 244.4 618 245.4 618 246.4 618.3 247.4 617.7 248.4 617.5 249.4 617.2 250.4 617.4 251.4 617.5 252.4 618.5 253.4 618.5 254.4 617.1 255.3 617.1 256.3 617.1 257.3 618.4 258.3 617.1 259.3 617.3 260.3 617.9 261.3 618.1 262.3 617.4 263.3 617.4 264.3 617.5 265.3 617.5 266.3 617.1 267.3 618.4 268.3 617.6 269.3 618.1 270.2 617.6 271.2 618.1 272.2 617.5 273.2 618.2 274.2 618.4 275.2 618.3 276.2 617.5 277.2 617.9 278.2 617.1 279.2 617.6 280.2 617.9 281.2 617.3 282.2 618.1 283.2 617.7 284.2 617 285.1 617.4 286.1 616.9 287.1 617.2 288.1 617.9 289.1 617.2 290.1 618.3 291.1 617.8 292.1 618.2 293.1 618.1 294.1 616.8 295.1 617.8 296.1 617.7 297.1 616.9 298.1 617 299.1 617.5 300.1 617.1 301 616.8 302 617.6 303 618.1 304 617.6 305 617.3 306 617.8 307 617.4 308 618 309 616.8 310 617 311 617.9 312 617.4 313 617 314 617.7 315 616.9 315.9 617.3 316.9 617.1 317.9 617.6 318.9 617.2 319.9 617.5 320.9 616.7 321.9 617.7 322.9 618 323.9 617.3 324.9 616.9 325.9 618 326.9 617.3 327.9 617.9 328.9 617 329.9 616.9 330.9 616.7 331.8 617.5 332.8 617.6 333.8 617.5 334.8 616.6 335.8 617.5 336.8 617.5 337.8 616.8 338.8 617.3 339.8 617.1 340.8 616.5 341.8 617.7 342.8 616.7 343.8 616.8 344.8 616.8 345.8 617.7 346.7 617.4 347.7 616.5 348.7 617.5 349.7 617.2 350.7 617.5 351.7 617.1 352.7 617.2 353.7 616.6 354.7 617.3 355.7 617.1 356.7 616.8 357.7 617.3 358.7 617 359.7 616.9 360.7 617.4 361.7 617 362.6 616.5 363.6 616.5 364.6 617.4 365.6 617.7 366.6 616.6 367.6 617 368.6 617.1 369.6 617.7 370.6 617.7 371.6 616.4 372.6 616.9 373.6 617.6 374.6 617 375.6 617 376.6 616.3 377.5 617.3 378.5 616.8 379.5 616.4 380.5 617.1 381.5 617.4 382.5 616.3 383.5 617.6 384.5 616.4 385.5 617.4 386.5 617.2 387.5 616.8 388.5 616.7 389.5 617.1 390.5 617 391.5 616.9 392.4 616.6 393.4 617.1 394.4 616.5 395.4 617.5 396.4 616.8 397.4 616.7 398.4 616.5 399.4 616.3 400.4 616.5 401.4 616.5 402.4 617.2 403.4 617.4 404.4 617.3 405.4 616.7 406.4 617.2 407.4 616.7 408.3 616.9 409.3 616.1 410.3 616.9 411.3 616.7 412.3 616 413.3 617.4 414.3 616.8 415.3 617.2 416.3 616.9 417.3 616.4 418.3 616.6 419.3 617.2 420.3 616.7 421.3 616.9 422.3 616 423.2 616.3 424.2 616.6 425.2 617.2 426.2 617.4 427.2 616.7 428.2 616.3 429.2 617.1 430.2 615.9 431.2 616.2 432.2 617 433.2 617 434.2 616.5 435.2 617.3 436.2 616.5 437.2 616.3 438.2 616.9 439.1 617.2 440.1 616.7 441.1 616.8 442.1 616.6 443.1 617.3 444.1 616 445.1 616.8 446.1 617.1 447.1 617.2 448.1 616.1 449.1 616.3 450.1 615.8 451.1 615.8 452.1 616.5 453.1 616.9 454 616.1 455 617.1 456 616.9 457 615.9 458 616.1 459 616.9 460 616.1 461 616.4 462 616.1 463 616.1 464 617 465 615.8 466 616.5 467 617.1 468 616.7 469 615.7 469.9 616.8 470.9 616.7 471.9 617 472.9 615.7 473.9 617 474.9 616.8 475.9 615.7 476.9 616.7 477.9 616.6 478.9 616.2 479.9 615.9 480.9 616.8 481.9 615.8 482.9 616.2 483.9 616 484.8 616.8 485.8 615.8 486.8 616.4 487.8 615.8 488.8 616.9 489.8 616.6 490.8 616.9 491.8 615.9 492.8 616.7 493.8 614.8 494.8 614.7 495.8 614.6 496.8 614.1 497.8 613.7 498.8 614 499.8 614.8 L499.8 680.9 498.8 679.8 497.8 683.2 496.8 680.2 495.8 680.4 494.8 679.5 493.8 679.9 492.8 680.2 491.8 679.3 490.8 680.4 489.8 680.7 488.8 680.3 487.8 679.5 486.8 681 485.8 679 484.8 679.8 483.9 681 482.9 680.1 481.9 679.6 480.9 679.7 479.9 679.7 478.9 680.2 477.9 680.3 476.9 681.1 475.9 680.4 474.9 679 473.9 680.2 472.9 679.4 471.9 681.1 470.9 680.1 469.9 680.1 469 680.2 468 680.3 467 680.1 466 680 465 681.2 464 680.5 463 682.1 462 679.9 461 680.4 460 680.5 459 680.7 458 679.5 457 679.4 456 680.3 455 680.1 454 679.3 453.1 680.3 452.1 681.1 451.1 680.1 450.1 680.7 449.1 678.8 448.1 678.2 447.1 677.6 446.1 680.7 445.1 678.3 444.1 679.5 443.1 680.2 442.1 678.6 441.1 678.9 440.1 678.7 439.1 677.7 438.2 678.8 437.2 677.9 436.2 678.6 435.2 678.9 434.2 678.2 433.2 679.2 432.2 678.3 431.2 678.3 430.2 678.8 429.2 678.9 428.2 678.9 427.2 677.6 426.2 678.8 425.2 678.1 424.2 678 423.2 678.3 422.3 678.6 421.3 678.9 420.3 677.6 419.3 678.1 418.3 678.1 417.3 678.3 416.3 677.7 415.3 678 414.3 677.6 413.3 678 412.3 677.9 411.3 678.2 410.3 678.6 409.3 678.8 408.3 678.8 407.4 677.7 406.4 678.2 405.4 680.1 404.4 678.4 403.4 678.2 402.4 678 401.4 678.4 400.4 680.4 399.4 678.2 398.4 678.2 397.4 677.8 396.4 677.8 395.4 678.2 394.4 678.5 393.4 677.6 392.4 678.6 391.5 678.1 390.5 678.8 389.5 678.2 388.5 678.1 387.5 678.6 386.5 678.8 385.5 678.6 384.5 678.8 383.5 678.2 382.5 678.4 381.5 677.8 380.5 678.5 379.5 677.9 378.5 678.4 377.5 679.1 376.6 678 375.6 677.8 374.6 678.8 373.6 680.6 372.6 677.7 371.6 677.8 370.6 678.9 369.6 678.3 368.6 678.8 367.6 678.3 366.6 678.7 365.6 678.9 364.6 678.7 363.6 678.4 362.6 678.3 361.7 677.9 360.7 678.9 359.7 679.6 358.7 678.7 357.7 678.4 356.7 678.4 355.7 677.7 354.7 677.6 353.7 680.2 352.7 679.2 351.7 677.7 350.7 677.6 349.7 677.9 348.7 677.6 347.7 677.7 346.7 678.5 345.8 678.1 344.8 678.8 343.8 677.6 342.8 681.1 341.8 678.8 340.8 677.8 339.8 677.7 338.8 678.2 337.8 678.2 336.8 678.9 335.8 677.6 334.8 677.6 333.8 678.2 332.8 679.1 331.8 678.8 330.9 678.9 329.9 678.7 328.9 678.2 327.9 677.7 326.9 678.9 325.9 678.6 324.9 678.9 323.9 677.9 322.9 678.6 321.9 678.7 320.9 677.6 319.9 677.8 318.9 678.7 317.9 678.2 316.9 679.5 315.9 678.2 315 677.7 314 678.2 313 678.3 312 678.4 311 678.7 310 678.1 309 678.3 308 678.9 307 677.8 306 678.7 305 678 304 679.7 303 678.5 302 679.9 301 678.9 300.1 678.3 299.1 679.2 298.1 680.3 297.1 677.8 296.1 677.8 295.1 678.3 294.1 677.7 293.1 677.9 292.1 678.5 291.1 677.9 290.1 677.9 289.1 678.5 288.1 677.7 287.1 678.4 286.1 677.7 285.1 677.7 284.2 677.9 283.2 678.8 282.2 678.4 281.2 678.3 280.2 679.8 279.2 678.3 278.2 678.1 277.2 678.1 276.2 677 275.2 677.3 274.2 676.6 273.2 677.8 272.2 676.8 271.2 677.1 270.2 677.9 269.3 677.8 268.3 679.5 267.3 677.4 266.3 676.9 265.3 676.7 264.3 677.8 263.3 677.9 262.3 677.4 261.3 677.7 260.3 677.6 259.3 677.2 258.3 677.7 257.3 677.4 256.3 677.8 255.3 677.9 254.4 677.3 253.4 677 252.4 677.8 251.4 676.6 250.4 677.1 249.4 677.5 248.4 677.5 247.4 677.6 246.4 677.8 245.4 680 244.4 677.4 243.4 677.3 242.4 678 241.4 677.6 240.4 677.6 239.4 677.2 238.5 676.7 237.5 677.3 236.5 677.2 235.5 677.6 234.5 677.4 233.5 676.6 232.5 676.9 231.5 677.7 230.5 676.7 229.5 677.4 228.5 677.7 227.5 677.3 226.5 678.5 225.5 677.2 224.5 679 223.6 677.5 222.6 677.1 221.6 676.7 220.6 677.6 219.6 677.6 218.6 676.9 217.6 677.7 216.6 677.8 215.6 677.5 214.6 677.4 213.6 677.6 212.6 677.4 211.6 677.2 210.6 679.6 209.6 677.2 208.6 677.7 207.7 676.7 206.7 677.7 205.7 677.4 204.7 677 203.7 676.8 202.7 676.9 201.7 677.8 200.7 679.4 199.7 677.4 198.7 677.3 197.7 677.9 196.7 676.8 195.7 677.3 194.7 676.7 193.7 677.6 192.8 676.6 191.8 677.6 190.8 677.4 189.8 677.2 188.8 677.1 187.8 679.5 186.8 677.4 185.8 677.5 184.8 677 183.8 677.6 182.8 677.5 181.8 677.2 180.8 679.7 179.8 677.2 178.8 677.7 177.8 677.2 176.9 677.4 175.9 677.1 174.9 676.8 173.9 677.5 172.9 677.2 171.9 677.1 170.9 676.8 169.9 679.9 168.9 678.1 167.9 677.5 166.9 677 165.9 676.8 164.9 676.8 163.9 676.7 162.9 678.1 162 677 161 677.4 160 677.4 159 677.7 158 677.2 157 677.4 156 677.5 155 678.1 154 677.9 153 677.3 152 677.5 151 677.9 150 676.8 149 677.6 148 676.7 147.1 676.6 146.1 677.5 145.1 679.1 144.1 677 143.1 677.5 142.1 677.4 141.1 676.8 140.1 676.6 139.1 676.6 138.1 677.4 137.1 677.5 136.1 678.2 135.1 677.5 134.1 677.6 133.1 677.3 132.1 677.7 131.2 677.5 130.2 677.3 129.2 677.6 128.2 677.9 127.2 677.1 126.2 677.5 125.2 676.6 124.2 677.1 123.2 677.3 122.2 677.1 121.2 677.9 120.2 677.5 119.2 677.2 118.2 677.1 117.2 677.4 116.3 676.7 115.3 677.4 114.3 677.8 113.3 676.6 112.3 677.8 111.3 676.9 110.3 676.8 109.3 677.8 108.3 677.6 107.3 676.6 106.3 676.6 105.3 676.7 104.3 677.4 103.3 677.3 102.3 678.4 101.3 676.8 100.4 676.7 99.4 677.9 98.4 677.8 97.4 676.7 96.4 677.3 95.4 677.6 94.4 680.1 93.4 677.2Z" fill="#ff0000"/>
<rect x="54" y="424" width="485.2" height="261.6" fill="none" stroke="#000" stroke-width="1.7"/>
<path d="M54 677.4h4.5M54 652.1h2.5M54 626.7h4.5M54 601.4h2.5M54 576.1h4.5M54 550.7h2.5M54 525.4h4.5M54 500.1h2.5M54 474.7h4.5M54 449.4h2.5M54 424h4.5M93.4 685.6v-4.5M134 685.6v-2.5M174.7 685.6v-4.5M215.3 685.6v-2.5M255.9 685.6v-4.5M296.6 685.6v-2.5M337.2 685.6v-4.5M377.8 685.6v-2.5M418.5 685.6v-4.5M459.1 685.6v-2.5M499.8 685.6v-4.5" stroke="#000" stroke-width="1.1" fill="none"/>
<text x="47.5" y="682.8" font-size="16.3" text-anchor="end" fill="#000">0</text>
<text x="47.5" y="632.1" font-size="16.3" text-anchor="end" fill="#000">30</text>
<text x="47.5" y="581.5" font-size="16.3" text-anchor="end" fill="#000">60</text>
<text x="47.5" y="530.8" font-size="16.3" text-anchor="end" fill="#000">90</text>
<text x="47.5" y="480.1" font-size="16.3" text-anchor="end" fill="#000">120</text>
<text x="47.5" y="429.4" font-size="16.3" text-anchor="end" fill="#000">150</text>
<text x="93.4" y="707.5" font-size="16.3" text-anchor="middle" fill="#000">0</text>
<text x="174.7" y="707.5" font-size="16.3" text-anchor="middle" fill="#000">2000</text>
<text x="255.9" y="707.5" font-size="16.3" text-anchor="middle" fill="#000">4000</text>
<text x="337.2" y="707.5" font-size="16.3" text-anchor="middle" fill="#000">6000</text>
<text x="418.5" y="707.5" font-size="16.3" text-anchor="middle" fill="#000">8000</text>
<text x="499.8" y="707.5" font-size="16.3" text-anchor="middle" fill="#000">10000</text>
<text x="296" y="729.5" font-size="20" font-weight="bold" text-anchor="middle" fill="#000">Number of cycles</text>
<text x="18.5" y="560" font-size="19.5" font-weight="bold" text-anchor="middle" fill="#000" transform="rotate(-90 18.5 560)">ΔR/R<tspan font-size="12" dy="3.5">0</tspan><tspan dy="-3.5"> (%)</tspan></text>
<text x="95" y="447.2" font-size="21.5" font-weight="bold" text-anchor="start" fill="#000">(e)</text>
<text x="144.6" y="437.3" font-size="17.75" font-weight="bold" text-anchor="start" fill="#000">10,000 cyclic tensile tests of film at 5 wt%</text>
<text x="144.6" y="458.6" font-size="17.75" font-weight="bold" text-anchor="start" fill="#000">Frequency:3.33 Hz</text>
<text x="316.5" y="458.6" font-size="17.75" font-weight="bold" text-anchor="start" fill="#000">Elongation: 10%</text>
<rect x="81.2" y="462.9" width="127.1" height="109.9" fill="#fff" stroke="#555" stroke-width="0.7"/>
<path d="M92.9 563.5 93.2 522.4 93.5 564.9 93.8 523.7 94 564.9 94.3 522.4 94.5 563.9 94.7 523 95.8 564.8 96.2 524.2 96.8 564.3 97.4 522.9 98.2 563.6 98.4 523 98.7 564.4 99 524 99.2 564.1 99.6 524.1 100 564.2 100.2 524.3 101.1 564.9 101.4 526.1 101.6 561 102.4 522.5 102.7 564.6 103.1 523.4 103.3 564.4 103.6 523.3 103.8 563.9 104.2 524 104.4 563.7 105.3 524.3 105.5 563.9 105.7 523.1 106.7 563.4 106.9 522.7 107.1 562.2 107.4 522.5 107.7 562.9 107.9 523.5 108.2 564.8 108.4 522.7 108.6 564.6 109 522.6 109.5 564.1 109.8 522.8 110.1 564.4 110.4 523.3 110.6 563.5 111 523.4 111.2 563.4 111.5 522.2 111.7 563.7 112.1 522.6 112.5 564.6 112.8 523.6 113.8 564.1 114 522.2 114.2 562.6 114.5 526.2 114.7 564.2 114.9 524.1 115.2 564.3 115.5 524 115.8 564.1 116 522.9 116.6 564.5 116.9 523 117.1 564.4 117.4 524 117.7 564.4 118.3 523.4 118.5 563.4 118.8 523.6 119 564.1 119.2 523.1 119.5 564.7 119.6 524.3 120 564.5 120.3 525.9 120.6 563.9 120.9 524 121.2 564.6 121.5 527.7 121.8 564.3 122.1 523.9 122.4 564.5 122.6 523.1 123 563.7 123.3 522.2 123.6 563.9 123.9 523.3 124.1 564 124.3 524.2 124.5 564.2 124.8 524.4 125.1 563.7 125.8 523.6 126.1 564.6 126.3 522.9 126.6 564.2 127 522.5 127.3 564.1 127.6 524.2 127.9 564 128.2 522.8 128.9 564.1 129.3 523.6 129.6 564.7 129.8 523.7 130.1 563.8 130.3 525 130.6 564.2 130.8 523.5 131.2 564.6 132.2 527 132.3 564.8 132.6 523.2 133.3 563.9 134.3 523.3 134.8 563.6 135.1 523.5 135.4 564.1 135.7 526.5 136.1 563.5 136.3 523.9 136.5 564.9 136.8 523.3 137 563.9 137.4 522.9 137.7 564.9 137.9 523.7 139.1 563.7 139.9 523.5 140.2 563.7 140.4 525.5 140.8 564.5 141.2 524.2 141.5 564.4 141.8 522.3 142.1 564.2 142.3 523.2 142.7 563.5 143 524 143.2 564.7 143.6 522.6 143.7 563.2 144 523.8 145 563.6 145.2 523.7 145.4 564.9 146.1 523.8 146.4 564.6 146.7 523 147.1 564 147.8 524.2 148.1 560 148.4 523.2 148.7 564.9 149 522.8 149.3 564.5 149.6 522.8 150 563.6 150.2 523.2 150.5 563.5 150.7 523.4 150.9 563.9 151.2 523.3 151.5 564.2 151.8 523.9 152 564.6 152.2 523.9 152.6 564.2 153.4 526.3 153.7 563.8 154 522.6 154.2 564.2 155.2 522.8 155.4 563.5 155.6 523.9 155.9 563.2 156.8 523.6 157 560.8 157.2 522.6 157.5 563.9 157.8 522.3 158.4 564.6 158.7 523.3 159 564.8 159.3 522.3 159.5 564.8 159.9 523.3 160.1 563.4 160.5 522.7 160.9 564.6 161 523 161.4 562.4 161.6 525.4 161.8 563.9 162 524.2 162.7 563.6 163 522.7 163.9 564.1 164.3 522.7 164.6 564.3 165.1 524.1 165.3 564.9 166 523.7 166.2 564.6 166.6 523.8 167.6 564.7 167.8 523.9 168.1 565 168.3 522.4 169.3 563.8 169.6 523.1 169.9 564.7 170.2 522.9 170.4 564.8 170.5 523.8 170.9 564.7 171.2 523.1 171.5 564.6 171.8 522.8 172.1 564 172.5 524.4 172.8 563.5 173 523.7 173.4 564.6 173.7 523.1 174 564.4 174.2 522.8 174.9 564.2 175.2 524.4 175.4 564.3 175.7 523.7 176 565 176.3 522.3 176.7 564.2 177 522.9 178 564.4 178.3 522.8 179 564.2 179.6 523 180 563.8 180.3 523.1 180.5 563.7 180.8 524.9 181 564.2 182.1 524.4 182.3 564.6 182.5 522.2 183.6 564.6 183.9 523.4 184.2 563.7 184.4 523 184.7 563.8 185 524.3 185.2 564 186 523 186.3 564.1 187.4 522.9 188.6 564.5 188.8 522.4 189.2 564.3 189.5 522.6 189.8 564.9 190.2 524 191.1 564.6 191.4 522.9 191.5 563.7 191.7 523.8 192 563.7 192.3 523.7 192.5 565 192.8 524.3 193.2 564.3 194.1 524.3 194.5 563.8 194.7 522.8 195 564.8 195.3 523.4 195.7 564.5 195.9 522.8 196.2 563.8 196.8 523.7 197.1 564.8 197.3 524.3 198.1 564.8 198.4 523.5 198.6 564.6 198.8 523 199.2 564.9 200.1 522.4 200.4 563.4 200.6 523.3 200.8 562.2 201 523.7 201.4 563.5 201.7 523.2" stroke="#050505" stroke-width="0.7" fill="none" stroke-linejoin="miter"/>
<path d="M81.2 565.5h2.4M81.2 552.8h1.3M81.2 540h2.4M81.2 527.2h1.3M81.2 514.5h2.4M81.2 501.8h1.3M81.2 489h2.4M81.2 476.2h1.3M81.2 463.5h2.4M92.9 572.8v-2.4M103.8 572.8v-1.3M114.7 572.8v-2.4M125.5 572.8v-1.3M136.4 572.8v-2.4M147.3 572.8v-1.3M158.2 572.8v-2.4M169.1 572.8v-1.3M179.9 572.8v-2.4M190.8 572.8v-1.3M201.7 572.8v-2.4" stroke="#333" stroke-width="0.6" fill="none"/>
<text x="79" y="568.7" font-size="9.3" text-anchor="end" fill="#000">0</text>
<text x="79" y="543.2" font-size="9.3" text-anchor="end" fill="#000">20</text>
<text x="79" y="517.7" font-size="9.3" text-anchor="end" fill="#000">40</text>
<text x="79" y="492.2" font-size="9.3" text-anchor="end" fill="#000">60</text>
<text x="79" y="466.7" font-size="9.3" text-anchor="end" fill="#000">80</text>
<text x="92.9" y="583.3" font-size="9.3" text-anchor="middle" fill="#000">0</text>
<text x="114.7" y="583.3" font-size="9.3" text-anchor="middle" fill="#000">200</text>
<text x="136.4" y="583.3" font-size="9.3" text-anchor="middle" fill="#000">400</text>
<text x="158.2" y="583.3" font-size="9.3" text-anchor="middle" fill="#000">600</text>
<text x="179.9" y="583.3" font-size="9.3" text-anchor="middle" fill="#000">800</text>
<text x="201.7" y="583.3" font-size="9.3" text-anchor="middle" fill="#000">1000</text>
<text x="147.3" y="593.3" font-size="10.4" font-weight="bold" text-anchor="middle" fill="#000">Number of cycles</text>
<text x="64.8" y="517.5" font-size="10.6" font-weight="bold" text-anchor="middle" fill="#000" transform="rotate(-90 64.8 517.5)">ΔR/R<tspan font-size="8" dy="1.5">0</tspan><tspan dy="-1.5"> (%)</tspan></text>
<rect x="94.3" y="468" width="50.1" height="46.6" fill="#fff" stroke="#777" stroke-width="0.6"/>
<path d="M98.8 508.8 100.7 479.5 102.6 507.9 104.5 478.6 106.5 508.3 108.4 478.9 110.3 508 112.2 479.4 114.1 508.9 116 478.3 117.9 507.8 119.9 478.9 121.8 507.9 123.7 478.3 125.6 508.3 127.5 479.3 129.4 508.7 131.3 479.7 133.2 507.7 135.2 478.3 137.1 509 139 479.1 140.9 507.6" stroke="#333" stroke-width="0.6" fill="none"/>
<text x="120.3" y="474.9" font-size="5.4" font-weight="bold" text-anchor="middle" fill="#222">first of cycles</text>
<text x="119.3" y="521.2" font-size="3.8" font-weight="bold" text-anchor="middle" fill="#222">Number of cycles</text>
<text x="119.3" y="517.6" font-size="2.6" text-anchor="middle" fill="#333">0    20    40    60    80    100</text>
<text x="89.8" y="491.3" font-size="3.2" font-weight="bold" text-anchor="middle" fill="#222" transform="rotate(-90 89.8 491.3)">ΔR/R0 (%)</text>
<text x="93.3" y="510.9" font-size="2.4" text-anchor="end" fill="#333">0</text>
<text x="93.3" y="501.6" font-size="2.4" text-anchor="end" fill="#333">10</text>
<text x="93.3" y="492.3" font-size="2.4" text-anchor="end" fill="#333">20</text>
<text x="93.3" y="483" font-size="2.4" text-anchor="end" fill="#333">30</text>
<text x="93.3" y="473.7" font-size="2.4" text-anchor="end" fill="#333">40</text>
<rect x="157.5" y="468" width="47.4" height="46.6" fill="#fff" stroke="#777" stroke-width="0.6"/>
<path d="M161.8 507.6 163.3 479.7 164.8 508.9 166.4 478.4 167.9 507.8 169.4 479.4 171 508 172.5 478.7 174 508.1 175.5 479.2 177.1 508.1 178.6 478.5 180.1 508.4 181.7 478.8 183.2 507.9 184.7 479.7 186.3 507.6 187.8 479.1 189.3 508.3 190.9 478.7 192.4 509 193.9 478.3 195.5 508.3 197 478.7 198.5 508.4 200.1 479.6 201.6 508.2" stroke="#222" stroke-width="0.6" fill="none"/>
<text x="182.2" y="474" font-size="3.6" font-weight="bold" text-anchor="middle" fill="#222">last 100 cycles</text>
<text x="181.2" y="521.2" font-size="3.8" font-weight="bold" text-anchor="middle" fill="#222">Number of cycles</text>
<text x="181.2" y="517.6" font-size="2.6" text-anchor="middle" fill="#333">900   920   940   960   980   1000</text>
<text x="153" y="491.3" font-size="3.2" font-weight="bold" text-anchor="middle" fill="#222" transform="rotate(-90 153 491.3)">ΔR/R0 (%)</text>
<text x="156.5" y="510.9" font-size="2.4" text-anchor="end" fill="#333">0</text>
<text x="156.5" y="501.6" font-size="2.4" text-anchor="end" fill="#333">10</text>
<text x="156.5" y="492.3" font-size="2.4" text-anchor="end" fill="#333">20</text>
<text x="156.5" y="483" font-size="2.4" text-anchor="end" fill="#333">30</text>
<text x="156.5" y="473.7" font-size="2.4" text-anchor="end" fill="#333">40</text>
<rect x="237.6" y="462.9" width="130.2" height="107" fill="#fff" stroke="#555" stroke-width="0.7"/>
<rect x="248.5" y="519.6" width="109" height="42.4" fill="#3c5ee8"/>
<path d="M248.5 561.4 248.8 518.9 249.2 562.6 249.4 518.8 249.7 561.5 250.1 523.7 250.4 562.8 250.6 520.5 250.9 558.6 251.1 518.9 251.3 562.3 251.6 520.7 252.4 562.5 252.8 518.7 253.1 561.7 253.5 520.6 253.8 562.8 254.1 519.9 254.4 562.3 254.6 520.7 255 562.8 255.3 520.6 255.6 561.9 255.8 518.6 256.3 561.9 256.7 519.5 257 558.3 257.3 519 257.6 561.8 257.9 519.3 259.1 561.6 259.5 519.3 259.7 562.3 260 520 260.2 562.3 260.5 521.5 260.7 562 261 520.7 261.2 561.7 261.5 518.9 261.8 561.8 262.1 520.9 262.4 561.4 262.7 518.8 263.1 562.2 263.3 519.7 263.7 562.8 264.3 518.8 264.6 561.8 265.1 520.7 265.3 558.9 265.7 518.7 266.1 557.8 266.4 520.7 266.8 562 267.3 519.9 267.5 562 267.9 520.3 268.4 562.6 268.8 521 269 562.7 269.3 519.9 269.7 562.6 270.1 519.6 270.4 562.4 270.8 520.1 271.2 563 271.6 520.7 272 561.9 272.4 520 272.7 559.3 273 520.2 274.2 562.1 274.6 525.1 275.1 562.8 275.4 518.7 276.3 562.4 276.6 524.1 276.9 562 277.3 520.1 277.7 561.5 278 519.6 278.3 561.8 278.6 518.8 278.9 561.8 279.3 519.5 279.6 561 280.6 519.2 280.9 561.5 281.3 519.1 281.5 557.8 282.6 520.5 282.8 562.5 283.2 520.7 283.6 562 284 518.8 284.3 562.1 284.7 520 285 562.4 285.5 523 285.8 562.5 286.1 520.6 286.5 561.8 286.8 519.3 287.1 562.4 287.4 520.8 287.7 562.6 287.9 520.3 288.3 561.6 288.5 520.7 288.8 561.9 289.1 519.5 289.6 562.7 289.8 519.9 290.2 562.5 290.6 518.9 290.9 561.7 291.2 519.1 291.5 562.1 291.8 522.3 292 561.7 292.3 519.9 293.5 562.5 293.9 519.6 294.2 562.1 294.5 519.3 294.9 562 295.2 519 295.4 562.4 295.6 520 295.8 562.7 296.1 522.2 296.4 562.6 296.8 519.2 297 562.6 297.4 519.6 297.7 562.8 298.1 519.2 298.5 562.6 298.9 520.1 299.2 561.6 299.6 520.6 300 562.3 300.4 519.2 300.9 562.5 301.2 520.2 301.6 562.1 302 518.9 302.2 562.3 302.8 520.6 303 562.9 303.4 520.6 303.9 561.5 304.3 520.6 304.5 557.8 304.9 518.6 305.2 562.2 305.5 519.3 305.8 562.4 306 518.7 306.4 562.2 306.8 520.8 307.1 562 307.6 520.7 308.4 561.5 308.8 520.6 309.2 559.9 309.5 518.8 309.9 562 310.2 520.3 310.6 559.8 310.9 520.2 311.2 559.5 311.4 519.2 311.9 562 312.1 519.6 312.4 561.5 312.7 520.5 313.1 561.9 313.4 520.3 313.7 562.1 314.2 520.4 314.5 562.5 314.8 519.4 315 561.7 315.3 519.2 315.8 560.2 316 520.5 316.3 562.3 317.5 519.3 317.7 562.9 318.1 520.8 318.5 562.2 318.8 519.9 319.3 562 319.5 521 319.9 562 320.2 519.2 320.5 558.4 320.8 518.8 321.1 561.8 321.5 520.1 321.9 561.5 322.2 518.7 322.6 562.9 322.9 519.7 323.1 562.5 323.5 519.2 323.9 562.6 324.2 520.7 324.5 561.6 324.7 518.6 325.4 562.2 325.6 519.2 325.9 562.2 326.2 519.9 326.5 562.5 326.8 518.9 327.2 562 327.6 520.5 327.9 561.8 328.4 519.4 328.7 561.5 329 519 329.4 562.8 329.8 520.2 330.2 561.5 330.6 519.5 330.8 562.5 331.1 520 331.3 561.6 331.7 519.2 332.1 561.8 332.4 519 332.9 562.2 334.1 520.4 334.5 562.9 335 520.1 335.3 562.6 335.7 520.5 336.1 561.6 336.5 520.2 336.8 562.6 337 519.1 337.2 558.5 337.5 519.2 337.7 562.3 338 520.2 338.5 561.4 338.9 518.8 339.2 561.8 339.5 519 339.9 561.9 340.3 520.3 340.6 562.4 340.9 520 341.1 562.1 342 520.3 342.4 562.9 342.7 518.9 343 562.3 343.5 519.3 343.9 561.8 344.9 520.4 345.4 562.3 345.7 520.5 346 562.7 346.2 519.2 346.5 562.6 346.9 520.2 347.3 561.5 347.7 518.9 347.9 562.9 348.4 520.3 348.7 562.6 349.4 519.3 349.7 562.5 350.1 520.4 350.5 559.6 350.9 520.3 351.4 562.8 351.8 518.7 352 562.3 352.3 519.4 352.6 562.8 352.8 520.8 353.1 562.7 353.5 520.2 353.8 561.6 354.1 518.9 354.5 561.8 354.9 519.8 355.2 561.5 355.5 519.6 355.7 562.6 356.1 519.4 356.6 558.7 356.8 520.3 357.2 561.5 357.5 519.1" stroke="#0c2ad8" stroke-width="0.6" fill="none" stroke-linejoin="miter"/>
<path d="M248.8 562 249.3 520.3 252.6 561 253.2 519.9 255.3 562.2 257.9 520.3 258.4 562 259 520.1 262.4 560.7 265.5 521.3 266 562 266.4 521.3 267.1 561 270.4 521.3 270.9 560.2 271.3 521.4 271.9 562.2 272.2 520.9 272.5 561.8 273 521.4 273.4 561.9 276.2 521.4 276.9 561.6 280 521 280.4 561.5 280.9 519.7 281.2 561.9 281.9 521.2 282.4 560.7 283.9 520.5 284.5 560.7 287.3 522.1 287.9 561.9 288.2 519.6 291.1 561.8 291.7 520.1 292.3 561.3 292.8 520.6 294.5 561.1 297.6 521.4 298.1 562.1 298.8 520.1 299.1 557.4 299.4 519.6 300.1 561.6 301.7 519.5 304.4 561.1 306.4 525.6 307 561.8 307.4 519.6 308 561.2 308.4 519.4 310.7 561.5 311.1 520.1 311.4 558.3 311.9 520 312.6 561.3 313.1 519.5 313.7 562 314.1 519.8 314.7 562.1 315.2 519.5 315.7 561 316.1 520.5 316.7 561.1 317.1 520.8 317.7 561.1 319.7 520.5 320.4 560.9 320.9 519.9 323.3 561.8 325.9 523 326.6 558.2 330.1 521.6 332.9 560.9 335.8 521.1 336.4 561.3 339 521.5 339.4 562 339.8 521.4 340.3 561.6 341 520 341.3 561.3 341.8 520.4 344.9 561.8 345.3 522.1 345.8 561.7 346.2 519.9 348.1 562.2 348.7 519.7 349.1 562.2 349.4 520.2 351.7 562 352.2 525.3 352.6 562.2 355.4 520.3 355.7 561.3 356.2 519.6 356.8 561.3 357.3 521.2" stroke="#9cb6f8" stroke-width="0.48" fill="none" stroke-linejoin="miter"/>
<path d="M237.6 563.5h2.4M237.6 551h1.3M237.6 538.4h2.4M237.6 525.9h1.3M237.6 513.3h2.4M237.6 500.8h1.3M237.6 488.2h2.4M237.6 475.6h1.3M237.6 463.1h2.4M237.6 569.9v-2.4M248.5 569.9v-1.3M259.4 569.9v-2.4M270.3 569.9v-1.3M281.2 569.9v-2.4M292.1 569.9v-1.3M303 569.9v-2.4M313.9 569.9v-1.3M324.8 569.9v-2.4M335.7 569.9v-1.3M346.6 569.9v-2.4M357.5 569.9v-1.3" stroke="#333" stroke-width="0.6" fill="none"/>
<text x="235.4" y="566.7" font-size="9.3" text-anchor="end" fill="#000">0</text>
<text x="235.4" y="541.6" font-size="9.3" text-anchor="end" fill="#000">20</text>
<text x="235.4" y="516.5" font-size="9.3" text-anchor="end" fill="#000">40</text>
<text x="235.4" y="491.4" font-size="9.3" text-anchor="end" fill="#000">60</text>
<text x="235.4" y="466.3" font-size="9.3" text-anchor="end" fill="#000">80</text>
<text x="237.6" y="578.8" font-size="9.3" text-anchor="middle" fill="#000">4400</text>
<text x="259.4" y="578.8" font-size="9.3" text-anchor="middle" fill="#000">4600</text>
<text x="281.2" y="578.8" font-size="9.3" text-anchor="middle" fill="#000">4800</text>
<text x="303" y="578.8" font-size="9.3" text-anchor="middle" fill="#000">5000</text>
<text x="324.8" y="578.8" font-size="9.3" text-anchor="middle" fill="#000">5200</text>
<text x="346.6" y="578.8" font-size="9.3" text-anchor="middle" fill="#000">5400</text>
<text x="368.4" y="578.8" font-size="9.3" text-anchor="middle" fill="#000">5600</text>
<text x="303" y="591.7" font-size="10.4" font-weight="bold" text-anchor="middle" fill="#000">Number of cycles</text>
<text x="221.3" y="517.5" font-size="10.6" font-weight="bold" text-anchor="middle" fill="#000" transform="rotate(-90 221.3 517.5)">ΔR/R<tspan font-size="8" dy="1.5">0</tspan><tspan dy="-1.5"> (%)</tspan></text>
<rect x="252.2" y="467.2" width="50.3" height="41" fill="#fff" stroke="#777" stroke-width="0.6"/>
<path d="M256.7 502.9 258.2 477 259.7 502.7 261.3 477.1 262.8 502.3 264.3 476.3 265.8 503.3 267.3 477.5 268.8 502.9 270.3 476.6 271.8 501.8 273.3 476.9 274.8 502 276.3 476.9 277.9 502.3 279.4 476.4 280.9 502.3 282.4 477.5 283.9 502.5 285.4 477.3 286.9 502.3 288.4 476.3 289.9 502.1 291.4 477.1 292.9 502.8 294.5 476.3 296 502 297.5 476.9 299 502.2" stroke="#4460e0" stroke-width="0.6" fill="none"/>
<text x="278.4" y="473.2" font-size="3.6" font-weight="bold" text-anchor="middle" fill="#222">first 100 cycles</text>
<text x="277.4" y="514.8" font-size="3.8" font-weight="bold" text-anchor="middle" fill="#222">Number of cycles</text>
<text x="277.4" y="511.2" font-size="2.6" text-anchor="middle" fill="#333">4,500 4,520 4,540 4,560 4,580 4,600</text>
<text x="247.7" y="487.7" font-size="3.2" font-weight="bold" text-anchor="middle" fill="#222" transform="rotate(-90 247.7 487.7)">ΔR/R0 (%)</text>
<text x="251.2" y="505.1" font-size="2.4" text-anchor="end" fill="#333">0</text>
<text x="251.2" y="496.9" font-size="2.4" text-anchor="end" fill="#333">10</text>
<text x="251.2" y="488.7" font-size="2.4" text-anchor="end" fill="#333">20</text>
<text x="251.2" y="480.5" font-size="2.4" text-anchor="end" fill="#333">30</text>
<text x="251.2" y="472.3" font-size="2.4" text-anchor="end" fill="#333">40</text>
<rect x="311.8" y="467.2" width="49.5" height="41" fill="#fff" stroke="#777" stroke-width="0.6"/>
<path d="M316.3 502.9 318 476.4 319.7 502.7 321.5 476.5 323.2 503.2 324.9 476.8 326.6 501.9 328.4 477.4 330.1 502.1 331.8 476.6 333.6 502.5 335.3 476.6 337 503 338.8 476.4 340.5 503 342.2 477.6 344 502 345.7 477.4 347.4 502.1 349.2 476.5 350.9 502.8 352.6 477.2 354.4 502.2 356.1 477.5 357.8 502" stroke="#4460e0" stroke-width="0.6" fill="none"/>
<text x="337.6" y="473.2" font-size="3.6" font-weight="bold" text-anchor="middle" fill="#222">last 100 cycles</text>
<text x="336.6" y="514.8" font-size="3.8" font-weight="bold" text-anchor="middle" fill="#222">Number of cycles</text>
<text x="336.6" y="511.2" font-size="2.6" text-anchor="middle" fill="#333">5,400 5,420 5,440 5,460 5,480 5,500</text>
<text x="307.3" y="487.7" font-size="3.2" font-weight="bold" text-anchor="middle" fill="#222" transform="rotate(-90 307.3 487.7)">ΔR/R0 (%)</text>
<text x="310.8" y="505.1" font-size="2.4" text-anchor="end" fill="#333">0</text>
<text x="310.8" y="496.9" font-size="2.4" text-anchor="end" fill="#333">10</text>
<text x="310.8" y="488.7" font-size="2.4" text-anchor="end" fill="#333">20</text>
<text x="310.8" y="480.5" font-size="2.4" text-anchor="end" fill="#333">30</text>
<text x="310.8" y="472.3" font-size="2.4" text-anchor="end" fill="#333">40</text>
<rect x="399.8" y="465.8" width="122.9" height="104.1" fill="#fff" stroke="#555" stroke-width="0.7"/>
<rect x="410.7" y="520.4" width="106.8" height="42.1" fill="#2a9a42"/>
<path d="M410.7 559.2 411 519.6 411.3 562.1 411.6 524.5 411.8 563.2 412.2 519.6 412.5 563.3 412.7 520.1 413.1 562.8 413.3 519.7 413.6 563.2 414 519.7 414.4 563.2 414.8 521 415 562.8 415.4 520.4 415.7 562.4 416 519.8 416.2 562.2 416.6 520.2 417.1 562.7 417.4 519.9 417.6 562.2 417.9 521 418.2 562.9 418.4 519.9 418.8 562.8 419 519.9 419.2 562 419.5 520.2 419.7 563.2 420.1 519.8 420.5 562 420.7 521.2 421.1 562.6 421.4 521.7 421.7 563.2 422.1 523.3 422.4 563.2 422.7 521.6 422.9 562.6 423.2 520.4 423.5 562.3 423.8 521.4 424.1 562.1 424.4 520.5 424.6 562.8 424.8 521.3 425 562.7 425.4 520 425.6 561.8 426.2 520.4 426.6 562.3 426.9 521.5 427.8 563.4 428.1 521.5 428.3 563 428.6 519.6 428.9 563 429.3 519.9 429.5 562.8 429.9 519.7 430.2 562.7 430.6 521.1 430.9 560.8 431.2 521.4 431.4 562.3 431.6 523.1 431.8 563 433 521.5 433.2 562.5 433.5 520.7 433.8 559.6 434 519.9 434.2 562 434.5 519.6 435.2 562.4 435.4 520.9 435.9 563.1 436.1 520.8 436.3 563.2 436.5 520.5 436.9 563.2 437.1 521.3 437.5 563.3 437.8 523 438.1 562.6 438.3 520.6 438.7 562.6 439 520.3 439.3 561.9 439.6 520.2 440 562.5 440.3 520.9 440.7 562.8 440.9 521 441.5 561.2 441.7 520.5 442 562.8 442.4 523 442.8 562.5 443.1 520.9 443.5 562.8 443.9 521.4 444.1 562.3 444.4 520.6 444.8 562.1 445.5 521 445.8 562.6 446 519.6 446.4 562.6 446.9 524.8 447.2 562.8 447.5 522.8 447.8 563.2 448.1 521.6 448.3 563.3 448.5 519.7 448.8 562.1 449.1 520.7 449.5 562.7 449.8 520.1 450.1 560 450.4 520 451.7 558.9 452 520.6 452.8 562.5 453.3 519.6 453.6 562.4 453.8 521.6 454 562 454.4 520.4 455.4 562 455.7 520.5 456.1 563.4 456.5 519.7 456.9 562.7 457.2 520.9 457.6 561.9 457.9 521.4 458.2 562 458.4 519.6 458.8 563.1 459.2 520 459.5 562.4 459.8 521.1 460.1 562.5 460.4 521.6 460.6 562 461.1 521.5 462 562.7 462.3 520.7 462.7 563.4 463 521.5 463.3 562.4 463.5 519.8 463.7 562.6 464 520.5 464.2 563.3 464.5 521.2 465.3 561.9 466.1 523.2 466.3 563.2 466.5 520.7 466.7 562 467.1 521 467.4 562.2 467.8 521.2 468.2 562.1 468.4 519.8 468.7 562 469.1 521.3 469.5 562.2 469.8 521.6 470 563.3 470.4 520.1 470.6 562.4 470.8 520.8 471.1 562.2 471.5 519.5 471.9 562.5 472.2 521.1 472.5 563.4 472.8 520.7 473.1 561.4 473.4 520.3 474.5 562.1 474.8 521 475.1 562.8 475.4 519.8 476.3 563.4 476.6 521.1 477.5 563.5 477.9 520.8 478.1 563.3 478.5 521.4 478.9 559.7 479.2 519.7 479.5 559.6 479.9 520.1 481 560 481.3 520.2 481.6 562 481.9 521.2 482.2 561.8 482.6 521.4 482.9 562.2 483.3 522 483.7 563.2 484 521 484.3 562.4 484.6 521.3 484.8 562.3 485.2 520.6 485.6 563.4 486 520 486.9 562.3 487.3 521.7 487.6 562.7 487.8 520.6 488.1 562.6 488.5 520.5 488.9 561.9 490.2 520.9 490.6 561.9 491 520.4 492.1 562.4 492.5 519.6 492.7 562.6 493.1 521.4 494.3 562 494.5 520.8 494.8 563.3 495.1 519.9 496.1 559 496.4 520.5 496.8 563.4 497.1 520.9 497.4 562.3 497.6 520.1 497.8 563.4 498 524.3 498.9 562.7 499.3 520.5 499.7 562.4 499.9 521.2 500.3 563.4 500.5 520.9 500.8 562.1 501.2 521 501.4 563.5 501.7 520.2 502 563.3 502.3 519.6 502.7 561.2 503 520.3 503.4 562.4 503.6 519.6 503.9 562.3 504.2 521.5 504.6 559.3 504.8 520.2 505.1 563 505.3 519.7 505.7 562 505.9 520.9 507.1 562 507.3 520.4 507.7 562.7 508.1 521.5 508.4 563 508.7 520.3 509.1 562 509.5 521.3 509.9 562.9 510.3 521.5 510.7 562.6 511 521.4 511.2 562.7 511.5 521.3 511.8 562.7 512.2 521 512.5 562.2 512.8 519.7 513 562.9 513.4 521 513.8 562.3 514 520.2 514.2 562.9 514.6 520.2 514.8 563.3 515 521.1 515.2 563.4 515.6 519.5 515.9 561.9 516.1 520.1 516.4 562.2 516.7 521.2 517.1 562.8 517.5 520.4" stroke="#0a761e" stroke-width="0.6" fill="none" stroke-linejoin="miter"/>
<path d="M411 562.5 411.3 522.2 413.4 561.3 413.8 526.3 415.5 561.2 416 522.3 416.5 562 417.1 520.5 419.5 562.5 422 520.7 422.6 561.5 423.8 520.5 426.5 558.6 426.9 521.8 427.3 562.3 427.8 522 428.1 561.3 430.7 521.1 432.4 562.6 432.9 522.1 433.3 562.3 433.6 520.9 434 561.6 434.4 520.6 435 561.2 436.4 522.3 436.6 562.6 439.5 521.9 440 557.9 440.5 521.7 441 562 441.3 522.3 441.8 561.9 443.9 522 444.3 561.6 446.2 522 446.8 561.9 447.1 521.5 449.4 562.3 451.8 521.9 452.3 562.6 452.7 522 455.3 561.2 455.8 523.2 456.2 562.3 456.6 522.4 457.2 561.8 459.7 520.5 460.3 562.8 462.9 521.4 463.5 561.8 464 520.9 464.5 560.6 467.1 520.6 467.6 562 467.9 520.4 469.8 562.7 470.2 521.5 470.8 561.2 471.2 522 471.7 561.2 471.9 522.1 473.8 562.6 475.2 522.1 475.5 561.7 478.3 520.2 481.1 561.6 481.6 522 481.9 562.3 482.5 522.4 485.6 562.1 485.9 521.8 486.3 559.6 486.7 522.4 487.3 562.5 487.8 520.7 488 562 491.2 520.7 491.4 562 492 521.6 493.7 561.2 494 520.9 496.3 561.7 498.3 520.4 498.9 561.9 501 521.7 502.3 561.3 502.8 522.4 503.2 561.5 503.5 520.6 503.9 561.9 504.2 521.3 504.7 559.4 507.6 521.9 509.8 561.5 510.3 523.8 510.6 561.9 513 521.2 515.6 562.1 517.3 521.7" stroke="#8ad69c" stroke-width="0.48" fill="none" stroke-linejoin="miter"/>
<path d="M399.8 564h2.4M399.8 551.8h1.3M399.8 539.5h2.4M399.8 527.2h1.3M399.8 515h2.4M399.8 502.8h1.3M399.8 490.5h2.4M399.8 478.2h1.3M399.8 466h2.4M410.7 569.9v-2.4M421.4 569.9v-1.3M432.1 569.9v-2.4M442.7 569.9v-1.3M453.4 569.9v-2.4M464.1 569.9v-1.3M474.8 569.9v-2.4M485.5 569.9v-1.3M496.1 569.9v-2.4M506.8 569.9v-1.3M517.5 569.9v-2.4" stroke="#333" stroke-width="0.6" fill="none"/>
<text x="397.6" y="567.2" font-size="9.3" text-anchor="end" fill="#000">0</text>
<text x="397.6" y="542.7" font-size="9.3" text-anchor="end" fill="#000">20</text>
<text x="397.6" y="518.2" font-size="9.3" text-anchor="end" fill="#000">40</text>
<text x="397.6" y="493.7" font-size="9.3" text-anchor="end" fill="#000">60</text>
<text x="397.6" y="469.2" font-size="9.3" text-anchor="end" fill="#000">80</text>
<text x="410.7" y="579.7" font-size="9.3" text-anchor="middle" fill="#000">9000</text>
<text x="432.1" y="579.7" font-size="9.3" text-anchor="middle" fill="#000">9200</text>
<text x="453.4" y="579.7" font-size="9.3" text-anchor="middle" fill="#000">9400</text>
<text x="474.8" y="579.7" font-size="9.3" text-anchor="middle" fill="#000">9600</text>
<text x="496.1" y="579.7" font-size="9.3" text-anchor="middle" fill="#000">9800</text>
<text x="517.5" y="579.7" font-size="9.3" text-anchor="middle" fill="#000">10000</text>
<text x="464.1" y="590.8" font-size="10.4" font-weight="bold" text-anchor="middle" fill="#000">Number of cycles</text>
<text x="383.3" y="517.5" font-size="10.6" font-weight="bold" text-anchor="middle" fill="#000" transform="rotate(-90 383.3 517.5)">ΔR/R<tspan font-size="8" dy="1.5">0</tspan><tspan dy="-1.5"> (%)</tspan></text>
<rect x="413.6" y="469.5" width="48" height="39.3" fill="#fff" stroke="#777" stroke-width="0.6"/>
<path d="M417.9 503.1 419.4 479.3 420.8 502.9 422.2 479.6 423.7 503 425.1 479.5 426.6 504 428 478.8 429.4 502.7 430.9 479.1 432.3 502.7 433.8 478.3 435.2 503.4 436.6 478.5 438.1 503.3 439.5 479 441 504.1 442.4 478.5 443.8 503.7 445.3 479.5 446.7 502.9 448.2 478.4 449.6 502.9 451 478.4 452.5 503.2 453.9 478.3 455.4 504.1 456.8 479.5 458.2 503.8" stroke="#4cb462" stroke-width="0.6" fill="none"/>
<text x="438.6" y="475.5" font-size="3.6" font-weight="bold" text-anchor="middle" fill="#222">first 100 cycles</text>
<text x="437.6" y="515.4" font-size="3.8" font-weight="bold" text-anchor="middle" fill="#222">Number of cycles</text>
<text x="437.6" y="511.8" font-size="2.6" text-anchor="middle" fill="#333">9,000 9,020 9,040 9,060 9,080 9,100</text>
<text x="409.1" y="489.1" font-size="3.2" font-weight="bold" text-anchor="middle" fill="#222" transform="rotate(-90 409.1 489.1)">ΔR/R0 (%)</text>
<text x="412.6" y="505.9" font-size="2.4" text-anchor="end" fill="#333">0</text>
<text x="412.6" y="498" font-size="2.4" text-anchor="end" fill="#333">10</text>
<text x="412.6" y="490.1" font-size="2.4" text-anchor="end" fill="#333">20</text>
<text x="412.6" y="482.3" font-size="2.4" text-anchor="end" fill="#333">30</text>
<text x="412.6" y="474.4" font-size="2.4" text-anchor="end" fill="#333">40</text>
<rect x="474" y="469.5" width="47" height="39.3" fill="#fff" stroke="#777" stroke-width="0.6"/>
<path d="M478.2 502.9 479.7 479.4 481.3 503.4 482.8 478.5 484.3 504.1 485.8 479.1 487.3 503.4 488.9 479.3 490.4 503.5 491.9 479.3 493.4 503.7 494.9 479.3 496.5 503 498 478.8 499.5 503.3 501 479.2 502.5 503.8 504 479 505.6 502.9 507.1 478.5 508.6 502.9 510.1 479.2 511.6 502.8 513.2 478.6 514.7 503.9 516.2 479.3 517.7 502.9" stroke="#3aa852" stroke-width="0.6" fill="none"/>
<text x="498.5" y="475.5" font-size="3.6" font-weight="bold" text-anchor="middle" fill="#222">last 100 cycles</text>
<text x="497.5" y="515.4" font-size="3.8" font-weight="bold" text-anchor="middle" fill="#222">Number of cycles</text>
<text x="497.5" y="511.8" font-size="2.6" text-anchor="middle" fill="#333">9,900 9,920 9,940 9,960 9,980 10,000</text>
<text x="469.5" y="489.1" font-size="3.2" font-weight="bold" text-anchor="middle" fill="#222" transform="rotate(-90 469.5 489.1)">ΔR/R0 (%)</text>
<text x="473" y="505.9" font-size="2.4" text-anchor="end" fill="#333">0</text>
<text x="473" y="498" font-size="2.4" text-anchor="end" fill="#333">10</text>
<text x="473" y="490.1" font-size="2.4" text-anchor="end" fill="#333">20</text>
<text x="473" y="482.3" font-size="2.4" text-anchor="end" fill="#333">30</text>
<text x="473" y="474.4" font-size="2.4" text-anchor="end" fill="#333">40</text>
<path d="M90.4 579.5L90.4 585M90.4 597L90.4 609.4M90.4 608.2L90.4 617.7M90.4 623.2L90.4 651.8M90.4 657.3L90.4 682.5M89.2 608.2L101.8 608.2M108.6 608.2L123.6 608.2M130.5 608.2L135.4 608.2M135.4 608.2L149.1 603.4M157.4 600.5L171.1 595.7M177.9 593.4L193 588.1M204 584.2L215 580.4M135.4 608.2L135.4 621.8M135.4 628.6L135.4 649M135.4 657.3L135.4 671M135.4 677.7L135.4 681.3M97.7 681.3L108.6 681.3M114 681.3L134.4 681.3" stroke="#000" stroke-width="2.4" fill="none" stroke-linecap="butt"/>
<path d="M247.3 583.6L255.9 591.4M263.7 598.4L274.5 608.2M273.3 608.2L285.5 608.2M296.4 608.2L310 608.2M318 608.2L319.5 608.2M274.5 608.2L274.5 611M274.5 619L274.5 634M274.5 639.5L274.5 654.5M274.5 660L274.5 675M274.5 679L274.5 682.5M319.5 608.2L319.5 621.8M319.5 628.6L319.5 645M319.5 651.8L319.5 671M319.5 677.7L319.5 681.3M319.5 608.2L329.1 602.1M340 595.2L350.9 588.2M359.2 583L363.2 580.4M281.4 681.3L293.6 681.3M300.5 681.3L316.8 681.3" stroke="#1414f0" stroke-width="2.4" fill="none" stroke-linecap="butt"/>
<path d="M408.6 580.9L415.4 584.7M426.3 590.8L435.9 596.2M445.5 601.6L457.2 608.2M456 608.2L466 608.2M474 608.2L490.5 608.2M497.3 608.2L502.2 608.2M457.2 608.2L457.2 613.7M457.2 621.8L457.2 636.8M457.2 643.6L457.2 660M457.2 665.5L457.2 679.1M457.2 680.5L457.2 682.5M502.2 579.5L502.2 585M502.2 596L502.2 609.5M502.2 615L502.2 628.6M502.2 635.5L502.2 649M502.2 654.5L502.2 669.5M502.2 675L502.2 682.5M461.8 681.3L475.5 681.3M482.3 681.3L501.4 681.3" stroke="#167a16" stroke-width="2.4" fill="none" stroke-linecap="butt"/>
</g>
</svg></body></html>
